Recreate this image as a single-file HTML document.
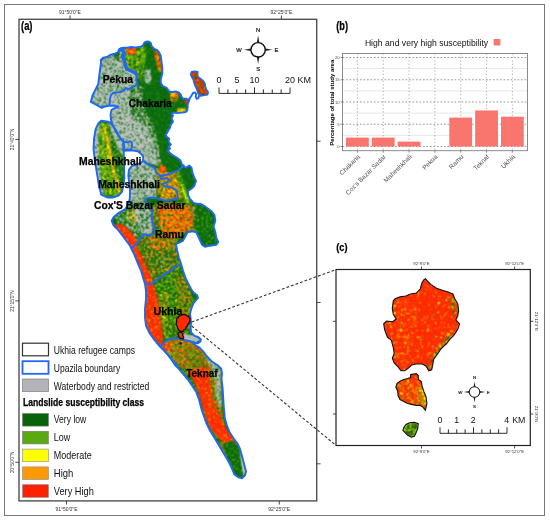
<!DOCTYPE html>
<html><head><meta charset="utf-8"><style>
html,body{margin:0;padding:0;background:#fff;}
svg{display:block;}
text{font-family:"Liberation Sans",Arial,sans-serif;}
</style></head><body>
<svg width="550" height="520" viewBox="0 0 550 520">
<defs><filter id="s0" filterUnits="userSpaceOnUse" x="0" y="0" width="550" height="520" color-interpolation-filters="sRGB"><feTurbulence type="fractalNoise" baseFrequency="0.41" numOctaves="3" seed="11" result="n"/><feColorMatrix in="n" type="matrix" values="0 0 0 0 0  0 0 0 0 0  0 0 0 0 0  9 0 0 0 -4.851" result="m"/><feComposite in="SourceGraphic" in2="m" operator="in"/></filter>
<filter id="s1" filterUnits="userSpaceOnUse" x="0" y="0" width="550" height="520" color-interpolation-filters="sRGB"><feTurbulence type="fractalNoise" baseFrequency="0.492" numOctaves="3" seed="12" result="n"/><feColorMatrix in="n" type="matrix" values="0 0 0 0 0  0 0 0 0 0  0 0 0 0 0  9 0 0 0 -4.779" result="m"/><feComposite in="SourceGraphic" in2="m" operator="in"/></filter>
<filter id="s2" filterUnits="userSpaceOnUse" x="0" y="0" width="550" height="520" color-interpolation-filters="sRGB"><feTurbulence type="fractalNoise" baseFrequency="0.41" numOctaves="3" seed="13" result="n"/><feColorMatrix in="n" type="matrix" values="0 0 0 0 0  0 0 0 0 0  0 0 0 0 0  9 0 0 0 -5.411" result="m"/><feComposite in="SourceGraphic" in2="m" operator="in"/></filter>
<filter id="s3" filterUnits="userSpaceOnUse" x="0" y="0" width="550" height="520" color-interpolation-filters="sRGB"><feTurbulence type="fractalNoise" baseFrequency="0.41" numOctaves="3" seed="14" result="n"/><feColorMatrix in="n" type="matrix" values="0 0 0 0 0  0 0 0 0 0  0 0 0 0 0  9 0 0 0 -3.863" result="m"/><feComposite in="SourceGraphic" in2="m" operator="in"/></filter>
<filter id="s4" filterUnits="userSpaceOnUse" x="0" y="0" width="550" height="520" color-interpolation-filters="sRGB"><feTurbulence type="fractalNoise" baseFrequency="0.451" numOctaves="3" seed="15" result="n"/><feColorMatrix in="n" type="matrix" values="0 0 0 0 0  0 0 0 0 0  0 0 0 0 0  9 0 0 0 -5.293" result="m"/><feComposite in="SourceGraphic" in2="m" operator="in"/></filter>
<filter id="s5" filterUnits="userSpaceOnUse" x="0" y="0" width="550" height="520" color-interpolation-filters="sRGB"><feTurbulence type="fractalNoise" baseFrequency="0.41" numOctaves="3" seed="16" result="n"/><feColorMatrix in="n" type="matrix" values="0 0 0 0 0  0 0 0 0 0  0 0 0 0 0  9 0 0 0 -4.338" result="m"/><feComposite in="SourceGraphic" in2="m" operator="in"/></filter>
<filter id="s6" filterUnits="userSpaceOnUse" x="0" y="0" width="550" height="520" color-interpolation-filters="sRGB"><feTurbulence type="fractalNoise" baseFrequency="0.492" numOctaves="3" seed="17" result="n"/><feColorMatrix in="n" type="matrix" values="0 0 0 0 0  0 0 0 0 0  0 0 0 0 0  9 0 0 0 -5.928" result="m"/><feComposite in="SourceGraphic" in2="m" operator="in"/></filter>
<filter id="s7" filterUnits="userSpaceOnUse" x="0" y="0" width="550" height="520" color-interpolation-filters="sRGB"><feTurbulence type="fractalNoise" baseFrequency="0.451" numOctaves="3" seed="18" result="n"/><feColorMatrix in="n" type="matrix" values="0 0 0 0 0  0 0 0 0 0  0 0 0 0 0  9 0 0 0 -4.140" result="m"/><feComposite in="SourceGraphic" in2="m" operator="in"/></filter>
<filter id="s8" filterUnits="userSpaceOnUse" x="0" y="0" width="550" height="520" color-interpolation-filters="sRGB"><feTurbulence type="fractalNoise" baseFrequency="0.451" numOctaves="3" seed="19" result="n"/><feColorMatrix in="n" type="matrix" values="0 0 0 0 0  0 0 0 0 0  0 0 0 0 0  9 0 0 0 -5.008" result="m"/><feComposite in="SourceGraphic" in2="m" operator="in"/></filter>
<filter id="s9" filterUnits="userSpaceOnUse" x="0" y="0" width="550" height="520" color-interpolation-filters="sRGB"><feTurbulence type="fractalNoise" baseFrequency="0.451" numOctaves="3" seed="20" result="n"/><feColorMatrix in="n" type="matrix" values="0 0 0 0 0  0 0 0 0 0  0 0 0 0 0  9 0 0 0 -4.426" result="m"/><feComposite in="SourceGraphic" in2="m" operator="in"/></filter>
<filter id="s10" filterUnits="userSpaceOnUse" x="0" y="0" width="550" height="520" color-interpolation-filters="sRGB"><feTurbulence type="fractalNoise" baseFrequency="0.492" numOctaves="3" seed="21" result="n"/><feColorMatrix in="n" type="matrix" values="0 0 0 0 0  0 0 0 0 0  0 0 0 0 0  9 0 0 0 -4.426" result="m"/><feComposite in="SourceGraphic" in2="m" operator="in"/></filter>
<filter id="s11" filterUnits="userSpaceOnUse" x="0" y="0" width="550" height="520" color-interpolation-filters="sRGB"><feTurbulence type="fractalNoise" baseFrequency="0.451" numOctaves="3" seed="22" result="n"/><feColorMatrix in="n" type="matrix" values="0 0 0 0 0  0 0 0 0 0  0 0 0 0 0  9 0 0 0 -4.281" result="m"/><feComposite in="SourceGraphic" in2="m" operator="in"/></filter>
<filter id="s12" filterUnits="userSpaceOnUse" x="0" y="0" width="550" height="520" color-interpolation-filters="sRGB"><feTurbulence type="fractalNoise" baseFrequency="0.41" numOctaves="3" seed="23" result="n"/><feColorMatrix in="n" type="matrix" values="0 0 0 0 0  0 0 0 0 0  0 0 0 0 0  9 0 0 0 -5.141" result="m"/><feComposite in="SourceGraphic" in2="m" operator="in"/></filter>
<filter id="s13" filterUnits="userSpaceOnUse" x="0" y="0" width="550" height="520" color-interpolation-filters="sRGB"><feTurbulence type="fractalNoise" baseFrequency="0.451" numOctaves="3" seed="24" result="n"/><feColorMatrix in="n" type="matrix" values="0 0 0 0 0  0 0 0 0 0  0 0 0 0 0  9 0 0 0 -4.927" result="m"/><feComposite in="SourceGraphic" in2="m" operator="in"/></filter>
<filter id="s14" filterUnits="userSpaceOnUse" x="0" y="0" width="550" height="520" color-interpolation-filters="sRGB"><feTurbulence type="fractalNoise" baseFrequency="0.41" numOctaves="3" seed="25" result="n"/><feColorMatrix in="n" type="matrix" values="0 0 0 0 0  0 0 0 0 0  0 0 0 0 0  9 0 0 0 -4.744" result="m"/><feComposite in="SourceGraphic" in2="m" operator="in"/></filter>
<filter id="s15" filterUnits="userSpaceOnUse" x="0" y="0" width="550" height="520" color-interpolation-filters="sRGB"><feTurbulence type="fractalNoise" baseFrequency="0.451" numOctaves="3" seed="26" result="n"/><feColorMatrix in="n" type="matrix" values="0 0 0 0 0  0 0 0 0 0  0 0 0 0 0  9 0 0 0 -5.547" result="m"/><feComposite in="SourceGraphic" in2="m" operator="in"/></filter>
<filter id="s16" filterUnits="userSpaceOnUse" x="0" y="0" width="550" height="520" color-interpolation-filters="sRGB"><feTurbulence type="fractalNoise" baseFrequency="0.492" numOctaves="3" seed="27" result="n"/><feColorMatrix in="n" type="matrix" values="0 0 0 0 0  0 0 0 0 0  0 0 0 0 0  9 0 0 0 -4.281" result="m"/><feComposite in="SourceGraphic" in2="m" operator="in"/></filter>
<filter id="s17" filterUnits="userSpaceOnUse" x="0" y="0" width="550" height="520" color-interpolation-filters="sRGB"><feTurbulence type="fractalNoise" baseFrequency="0.451" numOctaves="3" seed="28" result="n"/><feColorMatrix in="n" type="matrix" values="0 0 0 0 0  0 0 0 0 0  0 0 0 0 0  9 0 0 0 -4.927" result="m"/><feComposite in="SourceGraphic" in2="m" operator="in"/></filter>
<filter id="s18" filterUnits="userSpaceOnUse" x="0" y="0" width="550" height="520" color-interpolation-filters="sRGB"><feTurbulence type="fractalNoise" baseFrequency="0.451" numOctaves="3" seed="29" result="n"/><feColorMatrix in="n" type="matrix" values="0 0 0 0 0  0 0 0 0 0  0 0 0 0 0  9 0 0 0 -4.426" result="m"/><feComposite in="SourceGraphic" in2="m" operator="in"/></filter>
<filter id="s19" filterUnits="userSpaceOnUse" x="0" y="0" width="550" height="520" color-interpolation-filters="sRGB"><feTurbulence type="fractalNoise" baseFrequency="0.451" numOctaves="3" seed="30" result="n"/><feColorMatrix in="n" type="matrix" values="0 0 0 0 0  0 0 0 0 0  0 0 0 0 0  9 0 0 0 -5.293" result="m"/><feComposite in="SourceGraphic" in2="m" operator="in"/></filter>
<filter id="s20" filterUnits="userSpaceOnUse" x="0" y="0" width="550" height="520" color-interpolation-filters="sRGB"><feTurbulence type="fractalNoise" baseFrequency="0.492" numOctaves="3" seed="31" result="n"/><feColorMatrix in="n" type="matrix" values="0 0 0 0 0  0 0 0 0 0  0 0 0 0 0  9 0 0 0 -4.927" result="m"/><feComposite in="SourceGraphic" in2="m" operator="in"/></filter>
<filter id="s21" filterUnits="userSpaceOnUse" x="0" y="0" width="550" height="520" color-interpolation-filters="sRGB"><feTurbulence type="fractalNoise" baseFrequency="0.41" numOctaves="3" seed="32" result="n"/><feColorMatrix in="n" type="matrix" values="0 0 0 0 0  0 0 0 0 0  0 0 0 0 0  9 0 0 0 -5.547" result="m"/><feComposite in="SourceGraphic" in2="m" operator="in"/></filter>
<filter id="s22" filterUnits="userSpaceOnUse" x="0" y="0" width="550" height="520" color-interpolation-filters="sRGB"><feTurbulence type="fractalNoise" baseFrequency="0.451" numOctaves="3" seed="33" result="n"/><feColorMatrix in="n" type="matrix" values="0 0 0 0 0  0 0 0 0 0  0 0 0 0 0  9 0 0 0 -4.224" result="m"/><feComposite in="SourceGraphic" in2="m" operator="in"/></filter>
<filter id="s23" filterUnits="userSpaceOnUse" x="0" y="0" width="550" height="520" color-interpolation-filters="sRGB"><feTurbulence type="fractalNoise" baseFrequency="0.451" numOctaves="3" seed="34" result="n"/><feColorMatrix in="n" type="matrix" values="0 0 0 0 0  0 0 0 0 0  0 0 0 0 0  9 0 0 0 -5.411" result="m"/><feComposite in="SourceGraphic" in2="m" operator="in"/></filter>
<filter id="s24" filterUnits="userSpaceOnUse" x="0" y="0" width="550" height="520" color-interpolation-filters="sRGB"><feTurbulence type="fractalNoise" baseFrequency="0.41" numOctaves="3" seed="35" result="n"/><feColorMatrix in="n" type="matrix" values="0 0 0 0 0  0 0 0 0 0  0 0 0 0 0  9 0 0 0 -4.579" result="m"/><feComposite in="SourceGraphic" in2="m" operator="in"/></filter>
<filter id="s25" filterUnits="userSpaceOnUse" x="0" y="0" width="550" height="520" color-interpolation-filters="sRGB"><feTurbulence type="fractalNoise" baseFrequency="0.41" numOctaves="3" seed="36" result="n"/><feColorMatrix in="n" type="matrix" values="0 0 0 0 0  0 0 0 0 0  0 0 0 0 0  9 0 0 0 -5.712" result="m"/><feComposite in="SourceGraphic" in2="m" operator="in"/></filter>
<filter id="s26" filterUnits="userSpaceOnUse" x="0" y="0" width="550" height="520" color-interpolation-filters="sRGB"><feTurbulence type="fractalNoise" baseFrequency="0.41" numOctaves="3" seed="37" result="n"/><feColorMatrix in="n" type="matrix" values="0 0 0 0 0  0 0 0 0 0  0 0 0 0 0  9 0 0 0 -4.579" result="m"/><feComposite in="SourceGraphic" in2="m" operator="in"/></filter>
<filter id="s27" filterUnits="userSpaceOnUse" x="0" y="0" width="550" height="520" color-interpolation-filters="sRGB"><feTurbulence type="fractalNoise" baseFrequency="0.41" numOctaves="3" seed="38" result="n"/><feColorMatrix in="n" type="matrix" values="0 0 0 0 0  0 0 0 0 0  0 0 0 0 0  9 0 0 0 -5.008" result="m"/><feComposite in="SourceGraphic" in2="m" operator="in"/></filter>
<filter id="s28" filterUnits="userSpaceOnUse" x="0" y="0" width="550" height="520" color-interpolation-filters="sRGB"><feTurbulence type="fractalNoise" baseFrequency="0.41" numOctaves="3" seed="39" result="n"/><feColorMatrix in="n" type="matrix" values="0 0 0 0 0  0 0 0 0 0  0 0 0 0 0  9 0 0 0 -5.624" result="m"/><feComposite in="SourceGraphic" in2="m" operator="in"/></filter>
<filter id="s29" filterUnits="userSpaceOnUse" x="0" y="0" width="550" height="520" color-interpolation-filters="sRGB"><feTurbulence type="fractalNoise" baseFrequency="0.41" numOctaves="3" seed="40" result="n"/><feColorMatrix in="n" type="matrix" values="0 0 0 0 0  0 0 0 0 0  0 0 0 0 0  9 0 0 0 -4.851" result="m"/><feComposite in="SourceGraphic" in2="m" operator="in"/></filter>
<filter id="s30" filterUnits="userSpaceOnUse" x="0" y="0" width="550" height="520" color-interpolation-filters="sRGB"><feTurbulence type="fractalNoise" baseFrequency="0.41" numOctaves="3" seed="41" result="n"/><feColorMatrix in="n" type="matrix" values="0 0 0 0 0  0 0 0 0 0  0 0 0 0 0  9 0 0 0 -4.579" result="m"/><feComposite in="SourceGraphic" in2="m" operator="in"/></filter>
<filter id="s31" filterUnits="userSpaceOnUse" x="0" y="0" width="550" height="520" color-interpolation-filters="sRGB"><feTurbulence type="fractalNoise" baseFrequency="0.41" numOctaves="3" seed="42" result="n"/><feColorMatrix in="n" type="matrix" values="0 0 0 0 0  0 0 0 0 0  0 0 0 0 0  9 0 0 0 -5.293" result="m"/><feComposite in="SourceGraphic" in2="m" operator="in"/></filter>
<filter id="s32" filterUnits="userSpaceOnUse" x="0" y="0" width="550" height="520" color-interpolation-filters="sRGB"><feTurbulence type="fractalNoise" baseFrequency="0.41" numOctaves="3" seed="43" result="n"/><feColorMatrix in="n" type="matrix" values="0 0 0 0 0  0 0 0 0 0  0 0 0 0 0  9 0 0 0 -4.579" result="m"/><feComposite in="SourceGraphic" in2="m" operator="in"/></filter>
<filter id="s33" filterUnits="userSpaceOnUse" x="0" y="0" width="550" height="520" color-interpolation-filters="sRGB"><feTurbulence type="fractalNoise" baseFrequency="0.41" numOctaves="3" seed="44" result="n"/><feColorMatrix in="n" type="matrix" values="0 0 0 0 0  0 0 0 0 0  0 0 0 0 0  9 0 0 0 -4.927" result="m"/><feComposite in="SourceGraphic" in2="m" operator="in"/></filter>
<filter id="s34" filterUnits="userSpaceOnUse" x="0" y="0" width="550" height="520" color-interpolation-filters="sRGB"><feTurbulence type="fractalNoise" baseFrequency="0.41" numOctaves="3" seed="45" result="n"/><feColorMatrix in="n" type="matrix" values="0 0 0 0 0  0 0 0 0 0  0 0 0 0 0  9 0 0 0 -4.579" result="m"/><feComposite in="SourceGraphic" in2="m" operator="in"/></filter>
<filter id="s35" filterUnits="userSpaceOnUse" x="0" y="0" width="550" height="520" color-interpolation-filters="sRGB"><feTurbulence type="fractalNoise" baseFrequency="0.451" numOctaves="3" seed="46" result="n"/><feColorMatrix in="n" type="matrix" values="0 0 0 0 0  0 0 0 0 0  0 0 0 0 0  9 0 0 0 -4.779" result="m"/><feComposite in="SourceGraphic" in2="m" operator="in"/></filter>
<filter id="s36" filterUnits="userSpaceOnUse" x="0" y="0" width="550" height="520" color-interpolation-filters="sRGB"><feTurbulence type="fractalNoise" baseFrequency="0.41" numOctaves="3" seed="47" result="n"/><feColorMatrix in="n" type="matrix" values="0 0 0 0 0  0 0 0 0 0  0 0 0 0 0  9 0 0 0 -5.547" result="m"/><feComposite in="SourceGraphic" in2="m" operator="in"/></filter>
<filter id="s37" filterUnits="userSpaceOnUse" x="0" y="0" width="550" height="520" color-interpolation-filters="sRGB"><feTurbulence type="fractalNoise" baseFrequency="0.41" numOctaves="3" seed="48" result="n"/><feColorMatrix in="n" type="matrix" values="0 0 0 0 0  0 0 0 0 0  0 0 0 0 0  9 0 0 0 -4.579" result="m"/><feComposite in="SourceGraphic" in2="m" operator="in"/></filter>
<filter id="s38" filterUnits="userSpaceOnUse" x="0" y="0" width="550" height="520" color-interpolation-filters="sRGB"><feTurbulence type="fractalNoise" baseFrequency="0.451" numOctaves="3" seed="49" result="n"/><feColorMatrix in="n" type="matrix" values="0 0 0 0 0  0 0 0 0 0  0 0 0 0 0  9 0 0 0 -5.141" result="m"/><feComposite in="SourceGraphic" in2="m" operator="in"/></filter>
<filter id="s39" filterUnits="userSpaceOnUse" x="0" y="0" width="550" height="520" color-interpolation-filters="sRGB"><feTurbulence type="fractalNoise" baseFrequency="0.451" numOctaves="3" seed="50" result="n"/><feColorMatrix in="n" type="matrix" values="0 0 0 0 0  0 0 0 0 0  0 0 0 0 0  9 0 0 0 -5.293" result="m"/><feComposite in="SourceGraphic" in2="m" operator="in"/></filter>
<filter id="s40" filterUnits="userSpaceOnUse" x="0" y="0" width="550" height="520" color-interpolation-filters="sRGB"><feTurbulence type="fractalNoise" baseFrequency="0.41" numOctaves="3" seed="51" result="n"/><feColorMatrix in="n" type="matrix" values="0 0 0 0 0  0 0 0 0 0  0 0 0 0 0  9 0 0 0 -5.411" result="m"/><feComposite in="SourceGraphic" in2="m" operator="in"/></filter>
<filter id="s41" filterUnits="userSpaceOnUse" x="0" y="0" width="550" height="520" color-interpolation-filters="sRGB"><feTurbulence type="fractalNoise" baseFrequency="0.41" numOctaves="3" seed="52" result="n"/><feColorMatrix in="n" type="matrix" values="0 0 0 0 0  0 0 0 0 0  0 0 0 0 0  9 0 0 0 -4.281" result="m"/><feComposite in="SourceGraphic" in2="m" operator="in"/></filter>
<filter id="s42" filterUnits="userSpaceOnUse" x="0" y="0" width="550" height="520" color-interpolation-filters="sRGB"><feTurbulence type="fractalNoise" baseFrequency="0.451" numOctaves="3" seed="53" result="n"/><feColorMatrix in="n" type="matrix" values="0 0 0 0 0  0 0 0 0 0  0 0 0 0 0  9 0 0 0 -4.281" result="m"/><feComposite in="SourceGraphic" in2="m" operator="in"/></filter>
<filter id="s43" filterUnits="userSpaceOnUse" x="0" y="0" width="550" height="520" color-interpolation-filters="sRGB"><feTurbulence type="fractalNoise" baseFrequency="0.41" numOctaves="3" seed="54" result="n"/><feColorMatrix in="n" type="matrix" values="0 0 0 0 0  0 0 0 0 0  0 0 0 0 0  9 0 0 0 -4.224" result="m"/><feComposite in="SourceGraphic" in2="m" operator="in"/></filter>
<filter id="s44" filterUnits="userSpaceOnUse" x="0" y="0" width="550" height="520" color-interpolation-filters="sRGB"><feTurbulence type="fractalNoise" baseFrequency="0.451" numOctaves="3" seed="55" result="n"/><feColorMatrix in="n" type="matrix" values="0 0 0 0 0  0 0 0 0 0  0 0 0 0 0  9 0 0 0 -5.547" result="m"/><feComposite in="SourceGraphic" in2="m" operator="in"/></filter>
<filter id="s45" filterUnits="userSpaceOnUse" x="0" y="0" width="550" height="520" color-interpolation-filters="sRGB"><feTurbulence type="fractalNoise" baseFrequency="0.451" numOctaves="3" seed="56" result="n"/><feColorMatrix in="n" type="matrix" values="0 0 0 0 0  0 0 0 0 0  0 0 0 0 0  9 0 0 0 -4.579" result="m"/><feComposite in="SourceGraphic" in2="m" operator="in"/></filter>
<filter id="s46" filterUnits="userSpaceOnUse" x="0" y="0" width="550" height="520" color-interpolation-filters="sRGB"><feTurbulence type="fractalNoise" baseFrequency="0.41" numOctaves="3" seed="57" result="n"/><feColorMatrix in="n" type="matrix" values="0 0 0 0 0  0 0 0 0 0  0 0 0 0 0  9 0 0 0 -4.338" result="m"/><feComposite in="SourceGraphic" in2="m" operator="in"/></filter>
<filter id="s47" filterUnits="userSpaceOnUse" x="0" y="0" width="550" height="520" color-interpolation-filters="sRGB"><feTurbulence type="fractalNoise" baseFrequency="0.41" numOctaves="3" seed="58" result="n"/><feColorMatrix in="n" type="matrix" values="0 0 0 0 0  0 0 0 0 0  0 0 0 0 0  9 0 0 0 -5.141" result="m"/><feComposite in="SourceGraphic" in2="m" operator="in"/></filter>
<filter id="s48" filterUnits="userSpaceOnUse" x="0" y="0" width="550" height="520" color-interpolation-filters="sRGB"><feTurbulence type="fractalNoise" baseFrequency="0.41" numOctaves="3" seed="59" result="n"/><feColorMatrix in="n" type="matrix" values="0 0 0 0 0  0 0 0 0 0  0 0 0 0 0  9 0 0 0 -4.579" result="m"/><feComposite in="SourceGraphic" in2="m" operator="in"/></filter>
<filter id="s49" filterUnits="userSpaceOnUse" x="0" y="0" width="550" height="520" color-interpolation-filters="sRGB"><feTurbulence type="fractalNoise" baseFrequency="0.41" numOctaves="3" seed="60" result="n"/><feColorMatrix in="n" type="matrix" values="0 0 0 0 0  0 0 0 0 0  0 0 0 0 0  9 0 0 0 -5.411" result="m"/><feComposite in="SourceGraphic" in2="m" operator="in"/></filter>
<filter id="s50" filterUnits="userSpaceOnUse" x="0" y="0" width="550" height="520" color-interpolation-filters="sRGB"><feTurbulence type="fractalNoise" baseFrequency="0.41" numOctaves="3" seed="61" result="n"/><feColorMatrix in="n" type="matrix" values="0 0 0 0 0  0 0 0 0 0  0 0 0 0 0  9 0 0 0 -4.579" result="m"/><feComposite in="SourceGraphic" in2="m" operator="in"/></filter>
<filter id="s51" filterUnits="userSpaceOnUse" x="0" y="0" width="550" height="520" color-interpolation-filters="sRGB"><feTurbulence type="fractalNoise" baseFrequency="0.41" numOctaves="3" seed="62" result="n"/><feColorMatrix in="n" type="matrix" values="0 0 0 0 0  0 0 0 0 0  0 0 0 0 0  9 0 0 0 -5.293" result="m"/><feComposite in="SourceGraphic" in2="m" operator="in"/></filter>
<filter id="s52" filterUnits="userSpaceOnUse" x="0" y="0" width="550" height="520" color-interpolation-filters="sRGB"><feTurbulence type="fractalNoise" baseFrequency="0.451" numOctaves="3" seed="63" result="n"/><feColorMatrix in="n" type="matrix" values="0 0 0 0 0  0 0 0 0 0  0 0 0 0 0  9 0 0 0 -5.293" result="m"/><feComposite in="SourceGraphic" in2="m" operator="in"/></filter>
<filter id="s53" filterUnits="userSpaceOnUse" x="0" y="0" width="550" height="520" color-interpolation-filters="sRGB"><feTurbulence type="fractalNoise" baseFrequency="0.41" numOctaves="3" seed="64" result="n"/><feColorMatrix in="n" type="matrix" values="0 0 0 0 0  0 0 0 0 0  0 0 0 0 0  9 0 0 0 -4.710" result="m"/><feComposite in="SourceGraphic" in2="m" operator="in"/></filter>
<filter id="s54" filterUnits="userSpaceOnUse" x="0" y="0" width="550" height="520" color-interpolation-filters="sRGB"><feTurbulence type="fractalNoise" baseFrequency="0.41" numOctaves="3" seed="65" result="n"/><feColorMatrix in="n" type="matrix" values="0 0 0 0 0  0 0 0 0 0  0 0 0 0 0  9 0 0 0 -5.141" result="m"/><feComposite in="SourceGraphic" in2="m" operator="in"/></filter>
<filter id="s55" filterUnits="userSpaceOnUse" x="0" y="0" width="550" height="520" color-interpolation-filters="sRGB"><feTurbulence type="fractalNoise" baseFrequency="0.41" numOctaves="3" seed="66" result="n"/><feColorMatrix in="n" type="matrix" values="0 0 0 0 0  0 0 0 0 0  0 0 0 0 0  9 0 0 0 -5.624" result="m"/><feComposite in="SourceGraphic" in2="m" operator="in"/></filter>
<filter id="s56" filterUnits="userSpaceOnUse" x="0" y="0" width="550" height="520" color-interpolation-filters="sRGB"><feTurbulence type="fractalNoise" baseFrequency="0.451" numOctaves="3" seed="67" result="n"/><feColorMatrix in="n" type="matrix" values="0 0 0 0 0  0 0 0 0 0  0 0 0 0 0  9 0 0 0 -6.261" result="m"/><feComposite in="SourceGraphic" in2="m" operator="in"/></filter>
<filter id="s57" filterUnits="userSpaceOnUse" x="0" y="0" width="550" height="520" color-interpolation-filters="sRGB"><feTurbulence type="fractalNoise" baseFrequency="0.41" numOctaves="3" seed="68" result="n"/><feColorMatrix in="n" type="matrix" values="0 0 0 0 0  0 0 0 0 0  0 0 0 0 0  9 0 0 0 -5.811" result="m"/><feComposite in="SourceGraphic" in2="m" operator="in"/></filter>
<filter id="s58" filterUnits="userSpaceOnUse" x="0" y="0" width="550" height="520" color-interpolation-filters="sRGB"><feTurbulence type="fractalNoise" baseFrequency="0.41" numOctaves="3" seed="69" result="n"/><feColorMatrix in="n" type="matrix" values="0 0 0 0 0  0 0 0 0 0  0 0 0 0 0  9 0 0 0 -4.224" result="m"/><feComposite in="SourceGraphic" in2="m" operator="in"/></filter>
<filter id="s59" filterUnits="userSpaceOnUse" x="0" y="0" width="550" height="520" color-interpolation-filters="sRGB"><feTurbulence type="fractalNoise" baseFrequency="0.451" numOctaves="3" seed="70" result="n"/><feColorMatrix in="n" type="matrix" values="0 0 0 0 0  0 0 0 0 0  0 0 0 0 0  9 0 0 0 -5.141" result="m"/><feComposite in="SourceGraphic" in2="m" operator="in"/></filter>
<filter id="s60" filterUnits="userSpaceOnUse" x="0" y="0" width="550" height="520" color-interpolation-filters="sRGB"><feTurbulence type="fractalNoise" baseFrequency="0.41" numOctaves="3" seed="71" result="n"/><feColorMatrix in="n" type="matrix" values="0 0 0 0 0  0 0 0 0 0  0 0 0 0 0  9 0 0 0 -5.411" result="m"/><feComposite in="SourceGraphic" in2="m" operator="in"/></filter>
<filter id="s61" filterUnits="userSpaceOnUse" x="0" y="0" width="550" height="520" color-interpolation-filters="sRGB"><feTurbulence type="fractalNoise" baseFrequency="0.41" numOctaves="3" seed="72" result="n"/><feColorMatrix in="n" type="matrix" values="0 0 0 0 0  0 0 0 0 0  0 0 0 0 0  9 0 0 0 -4.744" result="m"/><feComposite in="SourceGraphic" in2="m" operator="in"/></filter>
<filter id="s62" filterUnits="userSpaceOnUse" x="0" y="0" width="550" height="520" color-interpolation-filters="sRGB"><feTurbulence type="fractalNoise" baseFrequency="0.41" numOctaves="3" seed="73" result="n"/><feColorMatrix in="n" type="matrix" values="0 0 0 0 0  0 0 0 0 0  0 0 0 0 0  9 0 0 0 -5.411" result="m"/><feComposite in="SourceGraphic" in2="m" operator="in"/></filter>
<filter id="s63" filterUnits="userSpaceOnUse" x="0" y="0" width="550" height="520" color-interpolation-filters="sRGB"><feTurbulence type="fractalNoise" baseFrequency="0.451" numOctaves="3" seed="74" result="n"/><feColorMatrix in="n" type="matrix" values="0 0 0 0 0  0 0 0 0 0  0 0 0 0 0  9 0 0 0 -5.141" result="m"/><feComposite in="SourceGraphic" in2="m" operator="in"/></filter>
<filter id="s64" filterUnits="userSpaceOnUse" x="0" y="0" width="550" height="520" color-interpolation-filters="sRGB"><feTurbulence type="fractalNoise" baseFrequency="0.41" numOctaves="3" seed="75" result="n"/><feColorMatrix in="n" type="matrix" values="0 0 0 0 0  0 0 0 0 0  0 0 0 0 0  9 0 0 0 -4.486" result="m"/><feComposite in="SourceGraphic" in2="m" operator="in"/></filter>
<filter id="s65" filterUnits="userSpaceOnUse" x="0" y="0" width="550" height="520" color-interpolation-filters="sRGB"><feTurbulence type="fractalNoise" baseFrequency="0.451" numOctaves="3" seed="76" result="n"/><feColorMatrix in="n" type="matrix" values="0 0 0 0 0  0 0 0 0 0  0 0 0 0 0  9 0 0 0 -5.811" result="m"/><feComposite in="SourceGraphic" in2="m" operator="in"/></filter>
<filter id="s66" filterUnits="userSpaceOnUse" x="0" y="0" width="550" height="520" color-interpolation-filters="sRGB"><feTurbulence type="fractalNoise" baseFrequency="0.451" numOctaves="3" seed="77" result="n"/><feColorMatrix in="n" type="matrix" values="0 0 0 0 0  0 0 0 0 0  0 0 0 0 0  9 0 0 0 -5.547" result="m"/><feComposite in="SourceGraphic" in2="m" operator="in"/></filter>
<filter id="s67" filterUnits="userSpaceOnUse" x="0" y="0" width="550" height="520" color-interpolation-filters="sRGB"><feTurbulence type="fractalNoise" baseFrequency="0.41" numOctaves="3" seed="78" result="n"/><feColorMatrix in="n" type="matrix" values="0 0 0 0 0  0 0 0 0 0  0 0 0 0 0  9 0 0 0 -5.293" result="m"/><feComposite in="SourceGraphic" in2="m" operator="in"/></filter>
<filter id="s68" filterUnits="userSpaceOnUse" x="0" y="0" width="550" height="520" color-interpolation-filters="sRGB"><feTurbulence type="fractalNoise" baseFrequency="0.41" numOctaves="3" seed="79" result="n"/><feColorMatrix in="n" type="matrix" values="0 0 0 0 0  0 0 0 0 0  0 0 0 0 0  9 0 0 0 -5.008" result="m"/><feComposite in="SourceGraphic" in2="m" operator="in"/></filter>
<filter id="s69" filterUnits="userSpaceOnUse" x="0" y="0" width="550" height="520" color-interpolation-filters="sRGB"><feTurbulence type="fractalNoise" baseFrequency="0.451" numOctaves="3" seed="80" result="n"/><feColorMatrix in="n" type="matrix" values="0 0 0 0 0  0 0 0 0 0  0 0 0 0 0  9 0 0 0 -4.338" result="m"/><feComposite in="SourceGraphic" in2="m" operator="in"/></filter>
<filter id="s70" filterUnits="userSpaceOnUse" x="0" y="0" width="550" height="520" color-interpolation-filters="sRGB"><feTurbulence type="fractalNoise" baseFrequency="0.41" numOctaves="3" seed="81" result="n"/><feColorMatrix in="n" type="matrix" values="0 0 0 0 0  0 0 0 0 0  0 0 0 0 0  9 0 0 0 -4.851" result="m"/><feComposite in="SourceGraphic" in2="m" operator="in"/></filter>
<filter id="s71" filterUnits="userSpaceOnUse" x="0" y="0" width="550" height="520" color-interpolation-filters="sRGB"><feTurbulence type="fractalNoise" baseFrequency="0.41" numOctaves="3" seed="82" result="n"/><feColorMatrix in="n" type="matrix" values="0 0 0 0 0  0 0 0 0 0  0 0 0 0 0  9 0 0 0 -5.712" result="m"/><feComposite in="SourceGraphic" in2="m" operator="in"/></filter>
<filter id="s72" filterUnits="userSpaceOnUse" x="0" y="0" width="550" height="520" color-interpolation-filters="sRGB"><feTurbulence type="fractalNoise" baseFrequency="0.451" numOctaves="3" seed="83" result="n"/><feColorMatrix in="n" type="matrix" values="0 0 0 0 0  0 0 0 0 0  0 0 0 0 0  9 0 0 0 -4.579" result="m"/><feComposite in="SourceGraphic" in2="m" operator="in"/></filter>
<filter id="s73" filterUnits="userSpaceOnUse" x="0" y="0" width="550" height="520" color-interpolation-filters="sRGB"><feTurbulence type="fractalNoise" baseFrequency="0.451" numOctaves="3" seed="84" result="n"/><feColorMatrix in="n" type="matrix" values="0 0 0 0 0  0 0 0 0 0  0 0 0 0 0  9 0 0 0 -5.293" result="m"/><feComposite in="SourceGraphic" in2="m" operator="in"/></filter>
<filter id="s74" filterUnits="userSpaceOnUse" x="0" y="0" width="550" height="520" color-interpolation-filters="sRGB"><feTurbulence type="fractalNoise" baseFrequency="0.451" numOctaves="3" seed="85" result="n"/><feColorMatrix in="n" type="matrix" values="0 0 0 0 0  0 0 0 0 0  0 0 0 0 0  9 0 0 0 -5.928" result="m"/><feComposite in="SourceGraphic" in2="m" operator="in"/></filter>
<filter id="s75" filterUnits="userSpaceOnUse" x="0" y="0" width="550" height="520" color-interpolation-filters="sRGB"><feTurbulence type="fractalNoise" baseFrequency="0.41" numOctaves="3" seed="86" result="n"/><feColorMatrix in="n" type="matrix" values="0 0 0 0 0  0 0 0 0 0  0 0 0 0 0  9 0 0 0 -4.579" result="m"/><feComposite in="SourceGraphic" in2="m" operator="in"/></filter>
<filter id="s76" filterUnits="userSpaceOnUse" x="0" y="0" width="550" height="520" color-interpolation-filters="sRGB"><feTurbulence type="fractalNoise" baseFrequency="0.451" numOctaves="3" seed="87" result="n"/><feColorMatrix in="n" type="matrix" values="0 0 0 0 0  0 0 0 0 0  0 0 0 0 0  9 0 0 0 -4.744" result="m"/><feComposite in="SourceGraphic" in2="m" operator="in"/></filter>
<filter id="s77" filterUnits="userSpaceOnUse" x="0" y="0" width="550" height="520" color-interpolation-filters="sRGB"><feTurbulence type="fractalNoise" baseFrequency="0.451" numOctaves="3" seed="88" result="n"/><feColorMatrix in="n" type="matrix" values="0 0 0 0 0  0 0 0 0 0  0 0 0 0 0  9 0 0 0 -4.851" result="m"/><feComposite in="SourceGraphic" in2="m" operator="in"/></filter>
<filter id="s78" filterUnits="userSpaceOnUse" x="0" y="0" width="550" height="520" color-interpolation-filters="sRGB"><feTurbulence type="fractalNoise" baseFrequency="0.41" numOctaves="3" seed="89" result="n"/><feColorMatrix in="n" type="matrix" values="0 0 0 0 0  0 0 0 0 0  0 0 0 0 0  9 0 0 0 -4.579" result="m"/><feComposite in="SourceGraphic" in2="m" operator="in"/></filter>
<filter id="s79" filterUnits="userSpaceOnUse" x="0" y="0" width="550" height="520" color-interpolation-filters="sRGB"><feTurbulence type="fractalNoise" baseFrequency="0.41" numOctaves="3" seed="90" result="n"/><feColorMatrix in="n" type="matrix" values="0 0 0 0 0  0 0 0 0 0  0 0 0 0 0  9 0 0 0 -5.411" result="m"/><feComposite in="SourceGraphic" in2="m" operator="in"/></filter>
<filter id="s80" filterUnits="userSpaceOnUse" x="0" y="0" width="550" height="520" color-interpolation-filters="sRGB"><feTurbulence type="fractalNoise" baseFrequency="0.41" numOctaves="3" seed="91" result="n"/><feColorMatrix in="n" type="matrix" values="0 0 0 0 0  0 0 0 0 0  0 0 0 0 0  9 0 0 0 -4.426" result="m"/><feComposite in="SourceGraphic" in2="m" operator="in"/></filter>
<filter id="s81" filterUnits="userSpaceOnUse" x="0" y="0" width="550" height="520" color-interpolation-filters="sRGB"><feTurbulence type="fractalNoise" baseFrequency="0.451" numOctaves="3" seed="92" result="n"/><feColorMatrix in="n" type="matrix" values="0 0 0 0 0  0 0 0 0 0  0 0 0 0 0  9 0 0 0 -5.547" result="m"/><feComposite in="SourceGraphic" in2="m" operator="in"/></filter>
<filter id="s82" filterUnits="userSpaceOnUse" x="0" y="0" width="550" height="520" color-interpolation-filters="sRGB"><feTurbulence type="fractalNoise" baseFrequency="0.492" numOctaves="3" seed="93" result="n"/><feColorMatrix in="n" type="matrix" values="0 0 0 0 0  0 0 0 0 0  0 0 0 0 0  9 0 0 0 -6.071" result="m"/><feComposite in="SourceGraphic" in2="m" operator="in"/></filter>
<filter id="s83" filterUnits="userSpaceOnUse" x="0" y="0" width="550" height="520" color-interpolation-filters="sRGB"><feTurbulence type="fractalNoise" baseFrequency="0.41" numOctaves="3" seed="94" result="n"/><feColorMatrix in="n" type="matrix" values="0 0 0 0 0  0 0 0 0 0  0 0 0 0 0  9 0 0 0 -4.644" result="m"/><feComposite in="SourceGraphic" in2="m" operator="in"/></filter>
<filter id="s84" filterUnits="userSpaceOnUse" x="0" y="0" width="550" height="520" color-interpolation-filters="sRGB"><feTurbulence type="fractalNoise" baseFrequency="0.41" numOctaves="3" seed="95" result="n"/><feColorMatrix in="n" type="matrix" values="0 0 0 0 0  0 0 0 0 0  0 0 0 0 0  9 0 0 0 -5.712" result="m"/><feComposite in="SourceGraphic" in2="m" operator="in"/></filter>
<filter id="s85" filterUnits="userSpaceOnUse" x="0" y="0" width="550" height="520" color-interpolation-filters="sRGB"><feTurbulence type="fractalNoise" baseFrequency="0.41" numOctaves="3" seed="96" result="n"/><feColorMatrix in="n" type="matrix" values="0 0 0 0 0  0 0 0 0 0  0 0 0 0 0  9 0 0 0 -4.579" result="m"/><feComposite in="SourceGraphic" in2="m" operator="in"/></filter>
<filter id="s86" filterUnits="userSpaceOnUse" x="0" y="0" width="550" height="520" color-interpolation-filters="sRGB"><feTurbulence type="fractalNoise" baseFrequency="0.41" numOctaves="3" seed="97" result="n"/><feColorMatrix in="n" type="matrix" values="0 0 0 0 0  0 0 0 0 0  0 0 0 0 0  9 0 0 0 -4.927" result="m"/><feComposite in="SourceGraphic" in2="m" operator="in"/></filter>
<filter id="s87" filterUnits="userSpaceOnUse" x="0" y="0" width="550" height="520" color-interpolation-filters="sRGB"><feTurbulence type="fractalNoise" baseFrequency="0.451" numOctaves="3" seed="98" result="n"/><feColorMatrix in="n" type="matrix" values="0 0 0 0 0  0 0 0 0 0  0 0 0 0 0  9 0 0 0 -4.517" result="m"/><feComposite in="SourceGraphic" in2="m" operator="in"/></filter>
<filter id="s88" filterUnits="userSpaceOnUse" x="0" y="0" width="550" height="520" color-interpolation-filters="sRGB"><feTurbulence type="fractalNoise" baseFrequency="0.451" numOctaves="3" seed="99" result="n"/><feColorMatrix in="n" type="matrix" values="0 0 0 0 0  0 0 0 0 0  0 0 0 0 0  9 0 0 0 -5.411" result="m"/><feComposite in="SourceGraphic" in2="m" operator="in"/></filter>
<filter id="s89" filterUnits="userSpaceOnUse" x="0" y="0" width="550" height="520" color-interpolation-filters="sRGB"><feTurbulence type="fractalNoise" baseFrequency="0.451" numOctaves="3" seed="100" result="n"/><feColorMatrix in="n" type="matrix" values="0 0 0 0 0  0 0 0 0 0  0 0 0 0 0  9 0 0 0 -5.293" result="m"/><feComposite in="SourceGraphic" in2="m" operator="in"/></filter>
<filter id="s90" filterUnits="userSpaceOnUse" x="0" y="0" width="550" height="520" color-interpolation-filters="sRGB"><feTurbulence type="fractalNoise" baseFrequency="0.295" numOctaves="3" seed="101" result="n"/><feColorMatrix in="n" type="matrix" values="0 0 0 0 0  0 0 0 0 0  0 0 0 0 0  9 0 0 0 -5.928" result="m"/><feComposite in="SourceGraphic" in2="m" operator="in"/></filter>
<filter id="s91" filterUnits="userSpaceOnUse" x="0" y="0" width="550" height="520" color-interpolation-filters="sRGB"><feTurbulence type="fractalNoise" baseFrequency="0.295" numOctaves="3" seed="102" result="n"/><feColorMatrix in="n" type="matrix" values="0 0 0 0 0  0 0 0 0 0  0 0 0 0 0  9 0 0 0 -6.261" result="m"/><feComposite in="SourceGraphic" in2="m" operator="in"/></filter>
<filter id="s92" filterUnits="userSpaceOnUse" x="0" y="0" width="550" height="520" color-interpolation-filters="sRGB"><feTurbulence type="fractalNoise" baseFrequency="0.328" numOctaves="3" seed="103" result="n"/><feColorMatrix in="n" type="matrix" values="0 0 0 0 0  0 0 0 0 0  0 0 0 0 0  9 0 0 0 -6.561" result="m"/><feComposite in="SourceGraphic" in2="m" operator="in"/></filter>
<filter id="s93" filterUnits="userSpaceOnUse" x="0" y="0" width="550" height="520" color-interpolation-filters="sRGB"><feTurbulence type="fractalNoise" baseFrequency="0.295" numOctaves="3" seed="104" result="n"/><feColorMatrix in="n" type="matrix" values="0 0 0 0 0  0 0 0 0 0  0 0 0 0 0  9 0 0 0 -5.811" result="m"/><feComposite in="SourceGraphic" in2="m" operator="in"/></filter>
<filter id="s94" filterUnits="userSpaceOnUse" x="0" y="0" width="550" height="520" color-interpolation-filters="sRGB"><feTurbulence type="fractalNoise" baseFrequency="0.295" numOctaves="3" seed="105" result="n"/><feColorMatrix in="n" type="matrix" values="0 0 0 0 0  0 0 0 0 0  0 0 0 0 0  9 0 0 0 -6.071" result="m"/><feComposite in="SourceGraphic" in2="m" operator="in"/></filter>
<filter id="s95" filterUnits="userSpaceOnUse" x="0" y="0" width="550" height="520" color-interpolation-filters="sRGB"><feTurbulence type="fractalNoise" baseFrequency="0.369" numOctaves="3" seed="106" result="n"/><feColorMatrix in="n" type="matrix" values="0 0 0 0 0  0 0 0 0 0  0 0 0 0 0  9 0 0 0 -4.744" result="m"/><feComposite in="SourceGraphic" in2="m" operator="in"/></filter>
<filter id="s96" filterUnits="userSpaceOnUse" x="0" y="0" width="550" height="520" color-interpolation-filters="sRGB"><feTurbulence type="fractalNoise" baseFrequency="0.369" numOctaves="3" seed="107" result="n"/><feColorMatrix in="n" type="matrix" values="0 0 0 0 0  0 0 0 0 0  0 0 0 0 0  9 0 0 0 -5.141" result="m"/><feComposite in="SourceGraphic" in2="m" operator="in"/></filter>
<filter id="s97" filterUnits="userSpaceOnUse" x="0" y="0" width="550" height="520" color-interpolation-filters="sRGB"><feTurbulence type="fractalNoise" baseFrequency="0.369" numOctaves="3" seed="108" result="n"/><feColorMatrix in="n" type="matrix" values="0 0 0 0 0  0 0 0 0 0  0 0 0 0 0  9 0 0 0 -5.411" result="m"/><feComposite in="SourceGraphic" in2="m" operator="in"/></filter>
<filter id="s98" filterUnits="userSpaceOnUse" x="0" y="0" width="550" height="520" color-interpolation-filters="sRGB"><feTurbulence type="fractalNoise" baseFrequency="0.369" numOctaves="3" seed="109" result="n"/><feColorMatrix in="n" type="matrix" values="0 0 0 0 0  0 0 0 0 0  0 0 0 0 0  9 0 0 0 -4.851" result="m"/><feComposite in="SourceGraphic" in2="m" operator="in"/></filter>
<filter id="s99" filterUnits="userSpaceOnUse" x="0" y="0" width="550" height="520" color-interpolation-filters="sRGB"><feTurbulence type="fractalNoise" baseFrequency="0.369" numOctaves="3" seed="110" result="n"/><feColorMatrix in="n" type="matrix" values="0 0 0 0 0  0 0 0 0 0  0 0 0 0 0  9 0 0 0 -5.141" result="m"/><feComposite in="SourceGraphic" in2="m" operator="in"/></filter>
<filter id="s100" filterUnits="userSpaceOnUse" x="0" y="0" width="550" height="520" color-interpolation-filters="sRGB"><feTurbulence type="fractalNoise" baseFrequency="0.369" numOctaves="3" seed="111" result="n"/><feColorMatrix in="n" type="matrix" values="0 0 0 0 0  0 0 0 0 0  0 0 0 0 0  9 0 0 0 -5.293" result="m"/><feComposite in="SourceGraphic" in2="m" operator="in"/></filter>
<filter id="s101" filterUnits="userSpaceOnUse" x="0" y="0" width="550" height="520" color-interpolation-filters="sRGB"><feTurbulence type="fractalNoise" baseFrequency="0.41" numOctaves="3" seed="112" result="n"/><feColorMatrix in="n" type="matrix" values="0 0 0 0 0  0 0 0 0 0  0 0 0 0 0  9 0 0 0 -5.189" result="m"/><feComposite in="SourceGraphic" in2="m" operator="in"/></filter>
<filter id="s102" filterUnits="userSpaceOnUse" x="0" y="0" width="550" height="520" color-interpolation-filters="sRGB"><feTurbulence type="fractalNoise" baseFrequency="0.41" numOctaves="3" seed="113" result="n"/><feColorMatrix in="n" type="matrix" values="0 0 0 0 0  0 0 0 0 0  0 0 0 0 0  9 0 0 0 -5.712" result="m"/><feComposite in="SourceGraphic" in2="m" operator="in"/></filter>
<filter id="s103" filterUnits="userSpaceOnUse" x="0" y="0" width="550" height="520" color-interpolation-filters="sRGB"><feTurbulence type="fractalNoise" baseFrequency="0.41" numOctaves="3" seed="114" result="n"/><feColorMatrix in="n" type="matrix" values="0 0 0 0 0  0 0 0 0 0  0 0 0 0 0  9 0 0 0 -5.712" result="m"/><feComposite in="SourceGraphic" in2="m" operator="in"/></filter>
<filter id="s104" filterUnits="userSpaceOnUse" x="0" y="0" width="550" height="520" color-interpolation-filters="sRGB"><feTurbulence type="fractalNoise" baseFrequency="0.41" numOctaves="3" seed="115" result="n"/><feColorMatrix in="n" type="matrix" values="0 0 0 0 0  0 0 0 0 0  0 0 0 0 0  9 0 0 0 -4.744" result="m"/><feComposite in="SourceGraphic" in2="m" operator="in"/></filter>
<filter id="s105" filterUnits="userSpaceOnUse" x="0" y="0" width="550" height="520" color-interpolation-filters="sRGB"><feTurbulence type="fractalNoise" baseFrequency="0.41" numOctaves="3" seed="116" result="n"/><feColorMatrix in="n" type="matrix" values="0 0 0 0 0  0 0 0 0 0  0 0 0 0 0  9 0 0 0 -4.927" result="m"/><feComposite in="SourceGraphic" in2="m" operator="in"/></filter>
<filter id="s106" filterUnits="userSpaceOnUse" x="0" y="0" width="550" height="520" color-interpolation-filters="sRGB"><feTurbulence type="fractalNoise" baseFrequency="0.41" numOctaves="3" seed="117" result="n"/><feColorMatrix in="n" type="matrix" values="0 0 0 0 0  0 0 0 0 0  0 0 0 0 0  9 0 0 0 -4.426" result="m"/><feComposite in="SourceGraphic" in2="m" operator="in"/></filter>
<filter id="s107" filterUnits="userSpaceOnUse" x="0" y="0" width="550" height="520" color-interpolation-filters="sRGB"><feTurbulence type="fractalNoise" baseFrequency="0.41" numOctaves="3" seed="118" result="n"/><feColorMatrix in="n" type="matrix" values="0 0 0 0 0  0 0 0 0 0  0 0 0 0 0  9 0 0 0 -5.293" result="m"/><feComposite in="SourceGraphic" in2="m" operator="in"/></filter>
<filter id="s108" filterUnits="userSpaceOnUse" x="0" y="0" width="550" height="520" color-interpolation-filters="sRGB"><feTurbulence type="fractalNoise" baseFrequency="0.41" numOctaves="3" seed="119" result="n"/><feColorMatrix in="n" type="matrix" values="0 0 0 0 0  0 0 0 0 0  0 0 0 0 0  9 0 0 0 -5.547" result="m"/><feComposite in="SourceGraphic" in2="m" operator="in"/></filter>
<filter id="soft" x="0" y="0" width="550" height="520" filterUnits="userSpaceOnUse" color-interpolation-filters="sRGB"><feConvolveMatrix order="3" kernelMatrix="1 2 1 2 6 2 1 2 1" divisor="18" edgeMode="duplicate"/></filter>
<clipPath id="land"><polygon points="100.8,60.0 103.0,57.7 107.0,57.0 110.8,54.6 114.6,53.8 117.7,52.3 119.2,49.2 121.5,48.0 124.6,47.7 127.7,47.7 130.8,47.0 135.4,47.4 140.0,47.0 143.0,45.4 144.6,42.3 147.0,41.5 149.2,41.8 150.8,43.0 151.5,46.0 153.8,48.5 157.0,50.0 159.2,52.3 160.8,56.0 161.5,61.5 162.3,67.7 162.3,73.8 160.8,79.2 160.8,83.0 163.0,86.2 166.6,87.8 169.2,91.4 172.4,92.0 175.6,91.4 178.7,92.5 180.9,94.6 181.4,96.7 183.0,98.8 186.1,98.6 188.3,99.9 189.8,98.3 189.0,101.0 187.7,104.0 187.7,107.3 187.2,110.5 185.6,112.0 181.9,112.6 177.7,113.1 174.0,112.6 171.3,113.6 173.0,115.4 171.5,118.5 173.0,121.5 170.8,124.6 170.0,127.7 168.5,130.0 167.0,133.0 165.4,134.6 167.0,137.0 169.2,138.5 168.5,141.5 170.8,144.6 168.5,147.0 170.0,148.5 167.7,150.8 170.0,153.0 173.0,155.4 177.0,157.7 180.0,160.0 181.5,163.0 182.3,166.0 186.0,167.7 189.2,165.4 191.5,167.7 192.3,172.3 194.2,177.3 196.0,181.0 194.2,186.0 191.3,188.8 188.0,191.0 188.0,195.0 190.0,199.0 193.5,202.8 197.5,203.8 201.0,204.0 204.8,206.2 208.5,209.0 211.5,211.2 214.4,215.0 215.4,220.8 213.5,226.5 215.4,232.3 216.3,238.0 218.3,242.0 216.3,244.8 209.6,245.8 204.8,246.7 202.0,244.8 199.0,238.0 196.2,232.3 192.3,231.3 187.5,232.3 185.6,236.0 182.7,241.0 178.8,242.9 176.0,243.8 177.0,249.6 178.8,257.3 180.8,263.0 183.0,270.5 185.5,278.0 188.5,284.0 191.2,289.2 194.0,293.0 197.0,295.0 198.0,297.9 195.8,300.5 193.4,303.5 191.1,309.2 190.0,313.8 190.6,318.5 191.1,323.0 190.6,327.7 191.1,332.3 194.6,335.8 198.0,336.9 200.9,339.2 200.4,341.5 196.9,342.7 194.6,343.8 195.8,345.6 199.2,347.3 202.7,350.8 206.1,355.4 211.5,361.2 217.3,365.0 221.2,368.8 222.0,373.7 221.5,378.5 222.6,388.0 223.2,397.7 223.8,407.3 224.8,417.7 226.8,425.4 230.0,433.0 233.8,438.8 237.2,443.0 239.8,448.5 242.0,456.0 244.0,463.8 246.0,471.5 245.0,475.4 242.0,478.3 238.3,477.3 234.4,474.4 231.5,467.7 227.7,460.0 222.0,450.4 216.2,440.8 210.4,431.2 206.5,423.5 203.7,415.8 201.7,410.0 199.0,399.6 196.2,392.0 192.3,386.0 188.5,380.4 183.7,374.6 178.8,368.8 175.0,365.0 171.2,359.2 166.9,353.5 163.5,350.0 160.0,346.5 156.5,342.5 154.2,339.6 149.8,333.5 146.0,325.8 145.0,318.0 145.0,308.5 146.0,298.8 146.0,291.0 145.0,284.0 143.0,277.7 141.0,270.5 137.7,263.0 133.8,253.5 130.0,245.8 124.2,238.0 118.5,230.4 113.7,225.6 111.7,220.8 113.7,217.0 118.5,213.0 125.2,209.2 128.2,204.6 129.8,198.5 130.0,190.8 129.2,183.0 128.3,175.4 129.0,169.5 131.5,166.2 136.0,164.6 140.8,163.0 143.0,160.8 143.3,157.0 141.5,154.2 137.7,151.3 132.0,150.4 124.0,150.5 123.6,146.0 123.5,141.7 121.0,139.0 117.5,134.0 114.6,128.5 112.5,125.0 111.0,120.0 110.5,114.6 111.5,110.0 114.0,108.3 118.4,106.8 115.0,105.8 110.0,105.5 105.0,106.5 101.7,107.8 96.5,105.0 90.8,101.9 92.5,95.4 95.4,89.6 98.3,83.8 99.2,76.0 100.2,68.5 101.0,62.7"/><polygon points="101.2,120.6 105.0,121.2 108.5,121.8 110.5,122.5 112.5,125.0 114.6,128.5 117.5,134.0 121.0,139.0 123.5,141.7 123.6,146.0 123.8,150.5 123.8,155.4 124.0,163.0 124.2,170.8 124.3,178.5 123.5,186.0 121.8,192.0 118.5,195.6 112.7,197.5 107.0,197.5 101.2,194.6 99.2,187.0 97.6,177.3 96.0,167.7 94.5,158.0 93.5,148.5 94.0,138.8 95.6,129.2 98.3,123.5"/><polygon points="191.6,71.8 194.6,71.2 197.8,71.8 197.5,74.3 198.0,76.7 199.4,78.0 201.2,79.2 203.3,80.8 205.0,83.6 205.5,86.9 206.6,90.0 208.2,92.3 207.5,94.8 203.2,95.4 200.2,96.0 198.2,93.4 196.5,88.6 195.0,85.4 193.8,82.1 193.3,79.6 191.7,77.0 190.6,74.5"/></clipPath>
</defs>
<rect width="550" height="520" fill="#fff"/>
<rect x="4.5" y="4.5" width="540" height="511" fill="none" stroke="#7a7a7a" stroke-width="1"/>

<rect x="19" y="19.3" width="297.7" height="481.6" fill="none" stroke="#505050" stroke-width="1.4"/>
<g clip-path="url(#land)"><g filter="url(#soft)"><rect x="80" y="30" width="180" height="460" fill="#0a6b0a"/>
<clipPath id="z0"><polygon points="100.8,60.0 103.0,57.7 107.0,57.0 110.8,54.6 114.6,53.8 117.7,52.3 119.2,49.2 121.5,48.0 124.6,47.7 127.7,47.7 130.8,47.0 135.4,47.4 140.0,47.0 143.0,45.4 144.6,42.3 147.0,41.5 149.2,41.8 150.8,43.0 151.5,46.0 153.8,48.5 157.0,50.0 159.2,52.3 160.8,56.0 161.5,61.5 162.3,67.7 162.3,73.8 160.8,79.2 160.8,83.0 163.0,86.2 166.6,87.8 169.2,91.4 172.4,92.0 175.6,91.4 178.7,92.5 180.9,94.6 181.4,96.7 183.0,98.8 186.1,98.6 188.3,99.9 189.8,98.3 189.0,101.0 187.7,104.0 187.7,107.3 187.2,110.5 185.6,112.0 181.9,112.6 177.7,113.1 174.0,112.6 171.3,113.6 173.0,115.4 171.5,118.5 173.0,121.5 170.8,124.6 170.0,127.7 168.5,130.0 167.0,133.0 165.4,134.6 167.0,137.0 169.2,138.5 168.5,141.5 170.8,144.6 168.5,147.0 170.0,148.5 167.7,150.8 170.0,153.0 173.0,155.4 177.0,157.7 180.0,160.0 181.5,163.0 182.3,166.0 186.0,167.7 189.2,165.4 191.5,167.7 192.3,172.3 194.2,177.3 196.0,181.0 194.2,186.0 191.3,188.8 188.0,191.0 188.0,195.0 190.0,199.0 193.5,202.8 197.5,203.8 201.0,204.0 204.8,206.2 208.5,209.0 211.5,211.2 214.4,215.0 215.4,220.8 213.5,226.5 215.4,232.3 216.3,238.0 218.3,242.0 216.3,244.8 209.6,245.8 204.8,246.7 202.0,244.8 199.0,238.0 196.2,232.3 192.3,231.3 187.5,232.3 185.6,236.0 182.7,241.0 178.8,242.9 176.0,243.8 177.0,249.6 178.8,257.3 180.8,263.0 183.0,270.5 185.5,278.0 188.5,284.0 191.2,289.2 194.0,293.0 197.0,295.0 198.0,297.9 195.8,300.5 193.4,303.5 191.1,309.2 190.0,313.8 190.6,318.5 191.1,323.0 190.6,327.7 191.1,332.3 194.6,335.8 198.0,336.9 200.9,339.2 200.4,341.5 196.9,342.7 194.6,343.8 195.8,345.6 199.2,347.3 202.7,350.8 206.1,355.4 211.5,361.2 217.3,365.0 221.2,368.8 222.0,373.7 221.5,378.5 222.6,388.0 223.2,397.7 223.8,407.3 224.8,417.7 226.8,425.4 230.0,433.0 233.8,438.8 237.2,443.0 239.8,448.5 242.0,456.0 244.0,463.8 246.0,471.5 245.0,475.4 242.0,478.3 238.3,477.3 234.4,474.4 231.5,467.7 227.7,460.0 222.0,450.4 216.2,440.8 210.4,431.2 206.5,423.5 203.7,415.8 201.7,410.0 199.0,399.6 196.2,392.0 192.3,386.0 188.5,380.4 183.7,374.6 178.8,368.8 175.0,365.0 171.2,359.2 166.9,353.5 163.5,350.0 160.0,346.5 156.5,342.5 154.2,339.6 149.8,333.5 146.0,325.8 145.0,318.0 145.0,308.5 146.0,298.8 146.0,291.0 145.0,284.0 143.0,277.7 141.0,270.5 137.7,263.0 133.8,253.5 130.0,245.8 124.2,238.0 118.5,230.4 113.7,225.6 111.7,220.8 113.7,217.0 118.5,213.0 125.2,209.2 128.2,204.6 129.8,198.5 130.0,190.8 129.2,183.0 128.3,175.4 129.0,169.5 131.5,166.2 136.0,164.6 140.8,163.0 143.0,160.8 143.3,157.0 141.5,154.2 137.7,151.3 132.0,150.4 124.0,150.5 123.6,146.0 123.5,141.7 121.0,139.0 117.5,134.0 114.6,128.5 112.5,125.0 111.0,120.0 110.5,114.6 111.5,110.0 114.0,108.3 118.4,106.8 115.0,105.8 110.0,105.5 105.0,106.5 101.7,107.8 96.5,105.0 90.8,101.9 92.5,95.4 95.4,89.6 98.3,83.8 99.2,76.0 100.2,68.5 101.0,62.7"/></clipPath><g clip-path="url(#z0)">
<rect x="89.8" y="40.5" width="157.2" height="438.8" fill="#1f7d1f" filter="url(#s0)"/>
</g>
<polygon points="100.8,60.0 103.0,57.7 107.0,57.0 110.8,54.6 114.6,53.8 117.7,52.3 119.5,49.0 123.0,50.8 124.6,53.8 123.0,57.7 124.6,61.5 125.4,66.2 127.0,69.2 130.8,70.8 135.4,73.0 137.0,75.4 136.2,80.0 137.5,83.5 135.7,85.8 132.3,86.9 128.8,89.2 126.0,88.0 123.0,91.0 119.6,92.1 112.7,93.3 111.0,95.0 109.8,99.6 109.5,105.5 105.0,106.5 101.7,107.8 96.5,105.0 90.8,101.9 92.5,95.4 95.4,89.6 98.3,83.8 99.2,76.0 100.2,68.5 101.0,62.7" fill="#c2c2c4" fill-opacity="1.0"/>
<clipPath id="z1"><polygon points="100.8,60.0 103.0,57.7 107.0,57.0 110.8,54.6 114.6,53.8 117.7,52.3 119.5,49.0 123.0,50.8 124.6,53.8 123.0,57.7 124.6,61.5 125.4,66.2 127.0,69.2 130.8,70.8 135.4,73.0 137.0,75.4 136.2,80.0 137.5,83.5 135.7,85.8 132.3,86.9 128.8,89.2 126.0,88.0 123.0,91.0 119.6,92.1 112.7,93.3 111.0,95.0 109.8,99.6 109.5,105.5 105.0,106.5 101.7,107.8 96.5,105.0 90.8,101.9 92.5,95.4 95.4,89.6 98.3,83.8 99.2,76.0 100.2,68.5 101.0,62.7"/></clipPath><g clip-path="url(#z1)">
<rect x="89.8" y="48.0" width="48.7" height="60.8" fill="#338833" filter="url(#s1)"/>
<rect x="89.8" y="48.0" width="48.7" height="60.8" fill="#0a6b0a" filter="url(#s2)"/>
</g>
<clipPath id="z2"><polygon points="114.0,50.0 121.0,48.0 124.6,53.8 123.0,57.7 122.0,62.0 116.0,60.0 112.0,56.0"/></clipPath><g clip-path="url(#z2)">
<rect x="111.0" y="47.0" width="14.6" height="16.0" fill="#0a6b0a" filter="url(#s3)"/>
</g>
<polygon points="123.0,49.0 143.0,45.5 145.0,58.0 143.0,72.0 139.0,79.0 136.0,74.0 130.0,71.0 126.0,66.0 124.6,61.5 124.5,54.0" fill="#5aaa14" fill-opacity="1.0"/>
<clipPath id="z3"><polygon points="123.0,49.0 143.0,45.5 145.0,58.0 143.0,72.0 139.0,79.0 136.0,74.0 130.0,71.0 126.0,66.0 124.6,61.5 124.5,54.0"/></clipPath><g clip-path="url(#z3)">
<rect x="122.0" y="44.5" width="24.0" height="35.5" fill="#ffff00" filter="url(#s4)"/>
<rect x="122.0" y="44.5" width="24.0" height="35.5" fill="#0a6b0a" filter="url(#s5)"/>
<rect x="122.0" y="44.5" width="24.0" height="35.5" fill="#ff9900" filter="url(#s6)"/>
</g>
<polygon points="126.0,48.0 136.0,47.5 136.0,52.5 131.0,55.0 127.0,53.0" fill="#ff2a00" fill-opacity="1.0"/>
<clipPath id="z4"><polygon points="126.0,48.0 136.0,47.5 136.0,52.5 131.0,55.0 127.0,53.0"/></clipPath><g clip-path="url(#z4)">
<rect x="125.0" y="46.5" width="12.0" height="9.5" fill="#ff9900" filter="url(#s7)"/>
</g>
<clipPath id="z5"><polygon points="136.0,50.0 143.0,47.0 145.0,56.0 140.0,62.0"/></clipPath><g clip-path="url(#z5)">
<rect x="135.0" y="46.0" width="11.0" height="17.0" fill="#ffff00" filter="url(#s8)"/>
</g>
<clipPath id="z6"><polygon points="140.0,48.0 146.0,44.0 147.0,60.0 146.0,80.0 142.0,84.0 139.0,79.0 143.0,70.0"/></clipPath><g clip-path="url(#z6)">
<rect x="138.0" y="43.0" width="10.0" height="42.0" fill="#5aaa14" filter="url(#s9)"/>
</g>
<polygon points="144.5,70.0 150.5,69.5 151.5,80.0 149.0,84.5 145.0,82.0" fill="#c2c2c4" fill-opacity="1.0"/>
<clipPath id="z7"><polygon points="144.5,70.0 150.5,69.5 151.5,80.0 149.0,84.5 145.0,82.0"/></clipPath><g clip-path="url(#z7)">
<rect x="143.5" y="68.5" width="9.0" height="17.0" fill="#338833" filter="url(#s10)"/>
</g>
<polygon points="154.0,50.0 159.0,52.5 161.5,62.0 161.5,72.0 158.5,71.0 155.5,60.0" fill="#ff9900" fill-opacity="1.0"/>
<clipPath id="z8"><polygon points="154.0,50.0 159.0,52.5 161.5,62.0 161.5,72.0 158.5,71.0 155.5,60.0"/></clipPath><g clip-path="url(#z8)">
<rect x="153.0" y="49.0" width="9.5" height="24.0" fill="#ff2a00" filter="url(#s11)"/>
<rect x="153.0" y="49.0" width="9.5" height="24.0" fill="#0a6b0a" filter="url(#s12)"/>
</g>
<polygon points="169.8,93.0 173.0,92.0 178.0,92.5 178.5,97.0 176.0,101.5 171.0,101.0" fill="#ff9900" fill-opacity="1.0"/>
<clipPath id="z9"><polygon points="169.8,93.0 173.0,92.0 178.0,92.5 178.5,97.0 176.0,101.5 171.0,101.0"/></clipPath><g clip-path="url(#z9)">
<rect x="168.8" y="91.0" width="10.7" height="11.5" fill="#ff2a00" filter="url(#s13)"/>
<rect x="168.8" y="91.0" width="10.7" height="11.5" fill="#0a6b0a" filter="url(#s14)"/>
<rect x="168.8" y="91.0" width="10.7" height="11.5" fill="#ffff00" filter="url(#s15)"/>
</g>
<polygon points="184.3,98.5 188.5,100.0 188.0,104.0 185.0,103.5" fill="#ff2a00" fill-opacity="1.0"/>
<polygon points="177.0,108.7 185.8,108.3 185.8,113.0 177.0,113.8" fill="#ff9900" fill-opacity="1.0"/>
<clipPath id="z11"><polygon points="177.0,108.7 185.8,108.3 185.8,113.0 177.0,113.8"/></clipPath><g clip-path="url(#z11)">
<rect x="176.0" y="107.3" width="10.8" height="7.5" fill="#ffff00" filter="url(#s16)"/>
<rect x="176.0" y="107.3" width="10.8" height="7.5" fill="#5aaa14" filter="url(#s17)"/>
</g>
<polygon points="191.6,71.8 194.6,71.2 197.8,71.8 197.5,74.3 198.0,76.7 199.4,78.0 201.2,79.2 203.3,80.8 205.0,83.6 205.5,86.9 206.6,90.0 208.2,92.3 207.5,94.8 203.2,95.4 200.2,96.0 198.2,93.4 196.5,88.6 195.0,85.4 193.8,82.1 193.3,79.6 191.7,77.0 190.6,74.5" fill="#ff2a00" fill-opacity="1.0"/>
<clipPath id="z12"><polygon points="191.6,71.8 194.6,71.2 197.8,71.8 197.5,74.3 198.0,76.7 199.4,78.0 201.2,79.2 203.3,80.8 205.0,83.6 205.5,86.9 206.6,90.0 208.2,92.3 207.5,94.8 203.2,95.4 200.2,96.0 198.2,93.4 196.5,88.6 195.0,85.4 193.8,82.1 193.3,79.6 191.7,77.0 190.6,74.5"/></clipPath><g clip-path="url(#z12)">
<rect x="189.6" y="70.2" width="19.6" height="26.8" fill="#0a6b0a" filter="url(#s18)"/>
<rect x="189.6" y="70.2" width="19.6" height="26.8" fill="#ff9900" filter="url(#s19)"/>
</g>
<polygon points="109.5,92.0 123.0,90.5 128.0,88.5 131.0,92.0 129.5,105.0 132.0,115.0 140.0,122.0 148.0,128.0 153.0,140.0 156.0,154.0 158.0,166.0 143.0,161.0 140.0,163.0 130.0,166.0 125.0,150.5 120.0,140.0 112.0,125.0 110.0,110.0" fill="#c2c2c4" fill-opacity="1.0"/>
<clipPath id="z13"><polygon points="109.5,92.0 123.0,90.5 128.0,88.5 131.0,92.0 129.5,105.0 132.0,115.0 140.0,122.0 148.0,128.0 153.0,140.0 156.0,154.0 158.0,166.0 143.0,161.0 140.0,163.0 130.0,166.0 125.0,150.5 120.0,140.0 112.0,125.0 110.0,110.0"/></clipPath><g clip-path="url(#z13)">
<rect x="108.5" y="87.5" width="50.5" height="79.5" fill="#338833" filter="url(#s20)"/>
<rect x="108.5" y="87.5" width="50.5" height="79.5" fill="#0a6b0a" filter="url(#s21)"/>
</g>
<polygon points="129.0,89.0 137.0,84.0 143.0,88.0 142.0,100.0 146.0,112.0 153.0,124.0 157.0,138.0 160.0,152.0 162.0,166.0 158.0,166.0 156.0,154.0 153.0,140.0 148.0,128.0 140.0,122.0 132.0,115.0 129.5,105.0 131.0,92.0" fill="#0a6b0a" fill-opacity="1.0"/>
<clipPath id="z14"><polygon points="129.0,89.0 137.0,84.0 143.0,88.0 142.0,100.0 146.0,112.0 153.0,124.0 157.0,138.0 160.0,152.0 162.0,166.0 158.0,166.0 156.0,154.0 153.0,140.0 148.0,128.0 140.0,122.0 132.0,115.0 129.5,105.0 131.0,92.0"/></clipPath><g clip-path="url(#z14)">
<rect x="128.0" y="83.0" width="35.0" height="84.0" fill="#c2c2c4" filter="url(#s22)"/>
<rect x="128.0" y="83.0" width="35.0" height="84.0" fill="#5aaa14" filter="url(#s23)"/>
</g>
<polygon points="101.2,120.6 105.0,121.2 108.5,121.8 110.5,122.5 112.5,125.0 114.6,128.5 117.5,134.0 121.0,139.0 123.5,141.7 123.6,146.0 123.8,150.5 123.8,155.4 124.0,163.0 124.2,170.8 124.3,178.5 123.5,186.0 121.8,192.0 118.5,195.6 112.7,197.5 107.0,197.5 101.2,194.6 99.2,187.0 97.6,177.3 96.0,167.7 94.5,158.0 93.5,148.5 94.0,138.8 95.6,129.2 98.3,123.5" fill="#0a6b0a" fill-opacity="1.0"/>
<clipPath id="z15"><polygon points="101.2,120.6 105.0,121.2 108.5,121.8 110.5,122.5 112.5,125.0 114.6,128.5 117.5,134.0 121.0,139.0 123.5,141.7 123.6,146.0 123.8,150.5 123.8,155.4 124.0,163.0 124.2,170.8 124.3,178.5 123.5,186.0 121.8,192.0 118.5,195.6 112.7,197.5 107.0,197.5 101.2,194.6 99.2,187.0 97.6,177.3 96.0,167.7 94.5,158.0 93.5,148.5 94.0,138.8 95.6,129.2 98.3,123.5"/></clipPath><g clip-path="url(#z15)">
<rect x="92.5" y="119.6" width="32.8" height="78.9" fill="#5aaa14" filter="url(#s24)"/>
<rect x="92.5" y="119.6" width="32.8" height="78.9" fill="#c2c2c4" filter="url(#s25)"/>
</g>
<polygon points="92.0,125.0 98.5,122.0 100.0,126.0 99.0,140.0 99.5,160.0 101.0,180.0 104.0,197.0 92.0,197.0" fill="#c2c2c4" fill-opacity="1.0"/>
<clipPath id="z16"><polygon points="92.0,125.0 98.5,122.0 100.0,126.0 99.0,140.0 99.5,160.0 101.0,180.0 104.0,197.0 92.0,197.0"/></clipPath><g clip-path="url(#z16)">
<rect x="91.0" y="121.0" width="14.0" height="77.0" fill="#338833" filter="url(#s26)"/>
</g>
<polygon points="99.0,124.0 104.0,122.0 108.0,126.0 110.0,140.0 113.0,160.0 117.0,180.0 121.0,194.0 112.0,197.0 105.0,195.0 102.0,180.0 100.0,160.0 99.5,140.0" fill="#5aaa14" fill-opacity="1.0"/>
<clipPath id="z17"><polygon points="99.0,124.0 104.0,122.0 108.0,126.0 110.0,140.0 113.0,160.0 117.0,180.0 121.0,194.0 112.0,197.0 105.0,195.0 102.0,180.0 100.0,160.0 99.5,140.0"/></clipPath><g clip-path="url(#z17)">
<rect x="98.0" y="121.0" width="24.0" height="77.0" fill="#ffff00" filter="url(#s27)"/>
<rect x="98.0" y="121.0" width="24.0" height="77.0" fill="#ff9900" filter="url(#s28)"/>
<rect x="98.0" y="121.0" width="24.0" height="77.0" fill="#0a6b0a" filter="url(#s29)"/>
</g>
<polygon points="103.5,127.0 105.5,127.5 109.5,144.0 113.5,164.0 118.0,184.0 120.5,192.5 118.5,192.5 111.5,166.0 107.0,148.0" fill="#ff9900" fill-opacity="1.0"/>
<clipPath id="z18"><polygon points="103.5,127.0 105.5,127.5 109.5,144.0 113.5,164.0 118.0,184.0 120.5,192.5 118.5,192.5 111.5,166.0 107.0,148.0"/></clipPath><g clip-path="url(#z18)">
<rect x="102.5" y="126.0" width="19.0" height="67.5" fill="#ffff00" filter="url(#s30)"/>
<rect x="102.5" y="126.0" width="19.0" height="67.5" fill="#5aaa14" filter="url(#s31)"/>
</g>
<clipPath id="z19"><polygon points="114.0,180.0 118.0,178.0 122.5,186.0 121.5,194.0 118.0,194.0"/></clipPath><g clip-path="url(#z19)">
<rect x="113.0" y="177.0" width="10.5" height="18.0" fill="#ffff00" filter="url(#s32)"/>
<rect x="113.0" y="177.0" width="10.5" height="18.0" fill="#ff9900" filter="url(#s33)"/>
</g>
<polygon points="108.5,122.0 112.5,125.0 116.0,131.0 121.0,139.0 123.6,143.0 123.8,155.0 120.5,153.0 116.0,143.0 111.0,131.0" fill="#c2c2c4" fill-opacity="1.0"/>
<clipPath id="z20"><polygon points="108.5,122.0 112.5,125.0 116.0,131.0 121.0,139.0 123.6,143.0 123.8,155.0 120.5,153.0 116.0,143.0 111.0,131.0"/></clipPath><g clip-path="url(#z20)">
<rect x="107.5" y="121.0" width="17.3" height="35.0" fill="#338833" filter="url(#s34)"/>
</g>
<polygon points="128.0,166.0 136.0,164.5 143.0,161.0 150.0,165.0 155.0,168.0 157.0,180.0 156.0,198.0 146.0,198.0 145.0,205.0 130.0,205.0 129.0,185.0" fill="#c2c2c4" fill-opacity="1.0"/>
<clipPath id="z21"><polygon points="128.0,166.0 136.0,164.5 143.0,161.0 150.0,165.0 155.0,168.0 157.0,180.0 156.0,198.0 146.0,198.0 145.0,205.0 130.0,205.0 129.0,185.0"/></clipPath><g clip-path="url(#z21)">
<rect x="127.0" y="160.0" width="31.0" height="46.0" fill="#338833" filter="url(#s35)"/>
<rect x="127.0" y="160.0" width="31.0" height="46.0" fill="#0a6b0a" filter="url(#s36)"/>
</g>
<polygon points="156.0,168.0 165.0,172.0 172.0,173.0 178.0,171.0 182.0,185.0 182.0,200.0 177.0,199.0 165.0,200.0 158.0,198.0 157.0,180.0" fill="#ff9900" fill-opacity="1.0"/>
<clipPath id="z22"><polygon points="156.0,168.0 165.0,172.0 172.0,173.0 178.0,171.0 182.0,185.0 182.0,200.0 177.0,199.0 165.0,200.0 158.0,198.0 157.0,180.0"/></clipPath><g clip-path="url(#z22)">
<rect x="155.0" y="167.0" width="28.0" height="34.0" fill="#0a6b0a" filter="url(#s37)"/>
<rect x="155.0" y="167.0" width="28.0" height="34.0" fill="#ff2a00" filter="url(#s38)"/>
<rect x="155.0" y="167.0" width="28.0" height="34.0" fill="#ffff00" filter="url(#s39)"/>
<rect x="155.0" y="167.0" width="28.0" height="34.0" fill="#5aaa14" filter="url(#s40)"/>
</g>
<clipPath id="z23"><polygon points="156.0,180.0 160.0,178.0 162.0,198.0 157.0,198.0"/></clipPath><g clip-path="url(#z23)">
<rect x="155.0" y="177.0" width="8.0" height="22.0" fill="#0a6b0a" filter="url(#s41)"/>
</g>
<polygon points="159.5,164.5 166.0,167.0 165.5,172.5 160.0,172.5" fill="#ff2a00" fill-opacity="1.0"/>
<clipPath id="z24"><polygon points="159.5,164.5 166.0,167.0 165.5,172.5 160.0,172.5"/></clipPath><g clip-path="url(#z24)">
<rect x="158.5" y="163.5" width="8.5" height="10.0" fill="#ff9900" filter="url(#s42)"/>
</g>
<polygon points="175.5,172.0 179.5,171.0 186.5,190.0 194.5,214.0 198.5,231.0 196.5,236.0 190.5,220.0 182.0,196.0" fill="#5aaa14" fill-opacity="1.0"/>
<clipPath id="z25"><polygon points="175.5,172.0 179.5,171.0 186.5,190.0 194.5,214.0 198.5,231.0 196.5,236.0 190.5,220.0 182.0,196.0"/></clipPath><g clip-path="url(#z25)">
<rect x="174.5" y="170.0" width="25.0" height="67.0" fill="#0a6b0a" filter="url(#s43)"/>
<rect x="174.5" y="170.0" width="25.0" height="67.0" fill="#ffff00" filter="url(#s44)"/>
</g>
<polygon points="180.5,184.0 182.0,184.0 192.0,213.0 197.5,231.0 196.0,233.0 190.5,215.0" fill="#ffff00" fill-opacity="1.0"/>
<clipPath id="z26"><polygon points="180.5,184.0 182.0,184.0 192.0,213.0 197.5,231.0 196.0,233.0 190.5,215.0"/></clipPath><g clip-path="url(#z26)">
<rect x="179.5" y="183.0" width="19.0" height="51.0" fill="#5aaa14" filter="url(#s45)"/>
</g>
<polygon points="112.0,210.0 128.0,203.0 146.0,201.0 152.0,210.0 154.0,232.0 148.0,236.0 140.0,238.0 136.0,246.0 124.0,236.0" fill="#0a6b0a" fill-opacity="1.0"/>
<clipPath id="z27"><polygon points="112.0,210.0 128.0,203.0 146.0,201.0 152.0,210.0 154.0,232.0 148.0,236.0 140.0,238.0 136.0,246.0 124.0,236.0"/></clipPath><g clip-path="url(#z27)">
<rect x="111.0" y="200.0" width="44.0" height="47.0" fill="#c2c2c4" filter="url(#s46)"/>
<rect x="111.0" y="200.0" width="44.0" height="47.0" fill="#5aaa14" filter="url(#s47)"/>
</g>
<polygon points="134.0,208.0 146.0,204.0 151.0,210.0 152.0,222.0 153.0,233.0 146.0,235.0 138.0,230.0 136.0,220.0" fill="#c2c2c4" fill-opacity="1.0"/>
<clipPath id="z28"><polygon points="134.0,208.0 146.0,204.0 151.0,210.0 152.0,222.0 153.0,233.0 146.0,235.0 138.0,230.0 136.0,220.0"/></clipPath><g clip-path="url(#z28)">
<rect x="133.0" y="203.0" width="21.0" height="33.0" fill="#0a6b0a" filter="url(#s48)"/>
<rect x="133.0" y="203.0" width="21.0" height="33.0" fill="#338833" filter="url(#s49)"/>
</g>
<clipPath id="z29"><polygon points="126.0,209.0 134.0,210.0 137.0,222.0 133.0,226.0 127.0,218.0"/></clipPath><g clip-path="url(#z29)">
<rect x="125.0" y="208.0" width="13.0" height="19.0" fill="#ff9900" filter="url(#s50)"/>
<rect x="125.0" y="208.0" width="13.0" height="19.0" fill="#ffff00" filter="url(#s51)"/>
</g>
<polygon points="110.0,223.0 119.6,225.2 129.2,229.5 133.4,234.8 136.6,240.0 138.5,244.5 137.5,248.0 131.0,248.0 128.1,241.6 125.0,236.3 120.7,231.0 116.0,227.0" fill="#ff2a00" fill-opacity="1.0"/>
<clipPath id="z30"><polygon points="110.0,223.0 119.6,225.2 129.2,229.5 133.4,234.8 136.6,240.0 138.5,244.5 137.5,248.0 131.0,248.0 128.1,241.6 125.0,236.3 120.7,231.0 116.0,227.0"/></clipPath><g clip-path="url(#z30)">
<rect x="109.0" y="222.0" width="30.5" height="27.0" fill="#ff9900" filter="url(#s52)"/>
</g>
<polygon points="152.0,205.0 165.0,202.0 185.0,202.0 196.0,206.0 197.0,230.0 186.0,232.0 178.0,243.0 177.0,250.0 179.0,258.0 181.5,265.0 175.0,268.0 167.0,273.0 158.0,279.0 150.0,285.5 144.0,285.5 140.0,268.0 134.0,252.0 140.0,240.0 152.0,234.0" fill="#0a6b0a" fill-opacity="1.0"/>
<clipPath id="z31"><polygon points="152.0,205.0 165.0,202.0 185.0,202.0 196.0,206.0 197.0,230.0 186.0,232.0 178.0,243.0 177.0,250.0 179.0,258.0 181.5,265.0 175.0,268.0 167.0,273.0 158.0,279.0 150.0,285.5 144.0,285.5 140.0,268.0 134.0,252.0 140.0,240.0 152.0,234.0"/></clipPath><g clip-path="url(#z31)">
<rect x="133.0" y="201.0" width="65.0" height="85.5" fill="#5aaa14" filter="url(#s53)"/>
<rect x="133.0" y="201.0" width="65.0" height="85.5" fill="#ff9900" filter="url(#s54)"/>
<rect x="133.0" y="201.0" width="65.0" height="85.5" fill="#ff2a00" filter="url(#s55)"/>
<rect x="133.0" y="201.0" width="65.0" height="85.5" fill="#ffff00" filter="url(#s56)"/>
<rect x="133.0" y="201.0" width="65.0" height="85.5" fill="#c2c2c4" filter="url(#s57)"/>
</g>
<polygon points="158.0,208.0 170.0,204.0 184.0,205.0 192.0,212.0 193.0,227.0 184.0,233.0 176.0,238.0 166.0,238.0 160.0,226.0" fill="#ff9900" fill-opacity="1.0"/>
<clipPath id="z32"><polygon points="158.0,208.0 170.0,204.0 184.0,205.0 192.0,212.0 193.0,227.0 184.0,233.0 176.0,238.0 166.0,238.0 160.0,226.0"/></clipPath><g clip-path="url(#z32)">
<rect x="157.0" y="203.0" width="37.0" height="36.0" fill="#ff2a00" filter="url(#s58)"/>
<rect x="157.0" y="203.0" width="37.0" height="36.0" fill="#5aaa14" filter="url(#s59)"/>
<rect x="157.0" y="203.0" width="37.0" height="36.0" fill="#0a6b0a" filter="url(#s60)"/>
</g>
<clipPath id="z33"><polygon points="150.0,232.0 165.0,236.0 176.0,240.0 170.0,250.0 158.0,252.0 148.0,245.0"/></clipPath><g clip-path="url(#z33)">
<rect x="147.0" y="231.0" width="30.0" height="22.0" fill="#ff9900" filter="url(#s61)"/>
<rect x="147.0" y="231.0" width="30.0" height="22.0" fill="#ff2a00" filter="url(#s62)"/>
</g>
<polygon points="195.0,203.0 201.0,204.0 208.5,209.0 214.4,215.0 215.4,220.8 213.5,226.5 215.4,232.3 218.3,242.0 204.8,246.7 199.0,238.0 196.0,232.0" fill="#0a6b0a" fill-opacity="1.0"/>
<clipPath id="z34"><polygon points="195.0,203.0 201.0,204.0 208.5,209.0 214.4,215.0 215.4,220.8 213.5,226.5 215.4,232.3 218.3,242.0 204.8,246.7 199.0,238.0 196.0,232.0"/></clipPath><g clip-path="url(#z34)">
<rect x="194.0" y="202.0" width="25.3" height="45.7" fill="#5aaa14" filter="url(#s63)"/>
</g>
<polygon points="146.0,284.0 165.0,276.0 181.0,265.0 186.0,285.0 194.0,300.0 191.0,335.0 180.0,340.0 165.0,340.0 155.0,332.0 147.0,310.0" fill="#0a6b0a" fill-opacity="1.0"/>
<clipPath id="z35"><polygon points="146.0,284.0 165.0,276.0 181.0,265.0 186.0,285.0 194.0,300.0 191.0,335.0 180.0,340.0 165.0,340.0 155.0,332.0 147.0,310.0"/></clipPath><g clip-path="url(#z35)">
<rect x="145.0" y="264.0" width="50.0" height="77.0" fill="#5aaa14" filter="url(#s64)"/>
<rect x="145.0" y="264.0" width="50.0" height="77.0" fill="#ffff00" filter="url(#s65)"/>
<rect x="145.0" y="264.0" width="50.0" height="77.0" fill="#ff9900" filter="url(#s66)"/>
</g>
<clipPath id="z36"><polygon points="160.0,295.0 166.0,290.0 170.0,300.0 168.0,320.0 166.0,336.0 162.0,330.0 161.0,312.0"/></clipPath><g clip-path="url(#z36)">
<rect x="159.0" y="289.0" width="12.0" height="48.0" fill="#ffff00" filter="url(#s67)"/>
<rect x="159.0" y="289.0" width="12.0" height="48.0" fill="#ff9900" filter="url(#s68)"/>
</g>
<polygon points="176.0,272.0 184.0,278.0 192.0,294.0 191.0,315.0 188.0,330.0 182.0,312.0 178.0,295.0" fill="#0a6b0a" fill-opacity="1.0"/>
<clipPath id="z37"><polygon points="176.0,272.0 184.0,278.0 192.0,294.0 191.0,315.0 188.0,330.0 182.0,312.0 178.0,295.0"/></clipPath><g clip-path="url(#z37)">
<rect x="175.0" y="271.0" width="18.0" height="60.0" fill="#ff9900" filter="url(#s69)"/>
<rect x="175.0" y="271.0" width="18.0" height="60.0" fill="#5aaa14" filter="url(#s70)"/>
<rect x="175.0" y="271.0" width="18.0" height="60.0" fill="#ff2a00" filter="url(#s71)"/>
</g>
<polygon points="183.0,334.0 194.0,335.5 200.5,339.5 196.0,342.5 188.0,341.0 183.0,339.5" fill="#c2c2c4" fill-opacity="1.0"/>
<clipPath id="z38"><polygon points="183.0,334.0 194.0,335.5 200.5,339.5 196.0,342.5 188.0,341.0 183.0,339.5"/></clipPath><g clip-path="url(#z38)">
<rect x="182.0" y="333.0" width="19.5" height="10.5" fill="#9ab49a" filter="url(#s72)"/>
</g>
<polygon points="116.5,226.0 122.0,223.5 129.0,231.0 135.4,243.0 139.0,250.0 142.0,257.0 145.5,264.0 148.8,271.0 151.5,278.0 153.5,284.0 155.5,291.0 158.0,300.0 160.0,312.0 161.5,327.0 163.5,339.0 160.0,345.5 154.2,339.6 149.8,333.5 146.0,325.8 145.0,318.0 145.0,308.5 146.0,298.8 146.0,291.0 145.0,284.0 143.0,277.7 141.0,270.5 137.7,263.0 133.8,253.5 130.0,245.8 124.2,238.0 118.5,230.4" fill="#ff2a00" fill-opacity="1.0"/>
<clipPath id="z39"><polygon points="116.5,226.0 122.0,223.5 129.0,231.0 135.4,243.0 139.0,250.0 142.0,257.0 145.5,264.0 148.8,271.0 151.5,278.0 153.5,284.0 155.5,291.0 158.0,300.0 160.0,312.0 161.5,327.0 163.5,339.0 160.0,345.5 154.2,339.6 149.8,333.5 146.0,325.8 145.0,318.0 145.0,308.5 146.0,298.8 146.0,291.0 145.0,284.0 143.0,277.7 141.0,270.5 137.7,263.0 133.8,253.5 130.0,245.8 124.2,238.0 118.5,230.4"/></clipPath><g clip-path="url(#z39)">
<rect x="115.5" y="222.5" width="49.0" height="124.0" fill="#ff9900" filter="url(#s73)"/>
<rect x="115.5" y="222.5" width="49.0" height="124.0" fill="#5aaa14" filter="url(#s74)"/>
</g>
<polygon points="160.0,346.5 170.0,339.0 185.0,340.0 199.0,343.0 206.0,355.0 218.0,365.0 222.0,374.0 222.0,410.0 225.0,428.0 236.0,443.0 242.0,456.0 246.0,472.0 242.0,478.0 234.0,474.0 222.0,450.0 210.0,431.0 201.0,410.0 192.0,386.0 178.0,368.0 166.0,353.0" fill="#5aaa14" fill-opacity="1.0"/>
<clipPath id="z40"><polygon points="160.0,346.5 170.0,339.0 185.0,340.0 199.0,343.0 206.0,355.0 218.0,365.0 222.0,374.0 222.0,410.0 225.0,428.0 236.0,443.0 242.0,456.0 246.0,472.0 242.0,478.0 234.0,474.0 222.0,450.0 210.0,431.0 201.0,410.0 192.0,386.0 178.0,368.0 166.0,353.0"/></clipPath><g clip-path="url(#z40)">
<rect x="159.0" y="338.0" width="88.0" height="141.0" fill="#0a6b0a" filter="url(#s75)"/>
<rect x="159.0" y="338.0" width="88.0" height="141.0" fill="#ff9900" filter="url(#s76)"/>
<rect x="159.0" y="338.0" width="88.0" height="141.0" fill="#ff2a00" filter="url(#s77)"/>
</g>
<polygon points="160.0,345.0 166.0,341.0 171.0,343.0 170.0,352.0 165.0,352.0" fill="#ff2a00" fill-opacity="1.0"/>
<clipPath id="z41"><polygon points="160.0,345.0 166.0,341.0 171.0,343.0 170.0,352.0 165.0,352.0"/></clipPath><g clip-path="url(#z41)">
<rect x="159.0" y="340.0" width="13.0" height="13.0" fill="#ff9900" filter="url(#s78)"/>
<rect x="159.0" y="340.0" width="13.0" height="13.0" fill="#5aaa14" filter="url(#s79)"/>
</g>
<clipPath id="z42"><polygon points="190.0,358.0 200.0,356.0 207.0,362.0 210.0,372.0 200.0,372.0 192.0,366.0"/></clipPath><g clip-path="url(#z42)">
<rect x="189.0" y="355.0" width="22.0" height="18.0" fill="#ff2a00" filter="url(#s80)"/>
</g>
<polygon points="188.0,372.0 196.0,370.0 204.0,368.0 208.5,372.0 209.5,380.0 211.0,392.0 213.0,402.0 216.0,410.0 221.0,418.0 226.0,428.0 232.0,436.0 237.0,443.0 236.0,447.0 230.0,445.0 223.0,442.5 216.0,436.0 210.0,428.0 206.5,420.0 203.5,412.0 201.5,404.0 199.5,396.0 196.5,388.0 193.0,380.0" fill="#ff2a00" fill-opacity="1.0"/>
<clipPath id="z43"><polygon points="188.0,372.0 196.0,370.0 204.0,368.0 208.5,372.0 209.5,380.0 211.0,392.0 213.0,402.0 216.0,410.0 221.0,418.0 226.0,428.0 232.0,436.0 237.0,443.0 236.0,447.0 230.0,445.0 223.0,442.5 216.0,436.0 210.0,428.0 206.5,420.0 203.5,412.0 201.5,404.0 199.5,396.0 196.5,388.0 193.0,380.0"/></clipPath><g clip-path="url(#z43)">
<rect x="187.0" y="367.0" width="51.0" height="81.0" fill="#ff9900" filter="url(#s81)"/>
<rect x="187.0" y="367.0" width="51.0" height="81.0" fill="#5aaa14" filter="url(#s82)"/>
</g>
<polygon points="168.0,356.0 177.0,364.0 186.0,372.0 193.0,380.0 196.5,388.0 199.5,396.0 201.5,404.0 203.5,412.0 206.5,420.0 210.0,428.0 216.0,436.0 223.0,442.5 215.0,446.0 205.0,432.0 197.0,415.0 192.0,400.0 185.0,386.0 172.0,370.0" fill="#0a6b0a" fill-opacity="1.0"/>
<clipPath id="z44"><polygon points="168.0,356.0 177.0,364.0 186.0,372.0 193.0,380.0 196.5,388.0 199.5,396.0 201.5,404.0 203.5,412.0 206.5,420.0 210.0,428.0 216.0,436.0 223.0,442.5 215.0,446.0 205.0,432.0 197.0,415.0 192.0,400.0 185.0,386.0 172.0,370.0"/></clipPath><g clip-path="url(#z44)">
<rect x="167.0" y="355.0" width="57.0" height="92.0" fill="#5aaa14" filter="url(#s83)"/>
<rect x="167.0" y="355.0" width="57.0" height="92.0" fill="#ff9900" filter="url(#s84)"/>
</g>
<clipPath id="z45"><polygon points="186.0,352.0 196.0,351.0 204.0,357.0 206.0,364.0 200.0,368.0 192.0,364.0"/></clipPath><g clip-path="url(#z45)">
<rect x="185.0" y="350.0" width="22.0" height="19.0" fill="#5aaa14" filter="url(#s85)"/>
<rect x="185.0" y="350.0" width="22.0" height="19.0" fill="#0a6b0a" filter="url(#s86)"/>
</g>
<polygon points="205.0,356.0 215.0,363.0 221.0,370.0 220.0,380.0 221.0,395.0 222.0,406.0 219.0,406.0 216.0,395.0 215.0,380.0 211.0,368.0" fill="#c2c2c4" fill-opacity="1.0"/>
<clipPath id="z46"><polygon points="205.0,356.0 215.0,363.0 221.0,370.0 220.0,380.0 221.0,395.0 222.0,406.0 219.0,406.0 216.0,395.0 215.0,380.0 211.0,368.0"/></clipPath><g clip-path="url(#z46)">
<rect x="204.0" y="355.0" width="19.0" height="52.0" fill="#338833" filter="url(#s87)"/>
<rect x="204.0" y="355.0" width="19.0" height="52.0" fill="#5aaa14" filter="url(#s88)"/>
</g>
<polygon points="223.0,445.0 230.0,440.5 236.0,443.0 242.0,456.0 246.0,472.0 242.0,478.0 234.0,474.0 226.0,456.0" fill="#0a6b0a" fill-opacity="1.0"/>
<clipPath id="z47"><polygon points="223.0,445.0 230.0,440.5 236.0,443.0 242.0,456.0 246.0,472.0 242.0,478.0 234.0,474.0 226.0,456.0"/></clipPath><g clip-path="url(#z47)">
<rect x="222.0" y="439.5" width="25.0" height="39.5" fill="#5aaa14" filter="url(#s89)"/>
</g>
<polygon points="239.5,450.0 243.5,461.0 246.0,471.5 243.5,476.0 241.5,465.0" fill="#c2c2c4" fill-opacity="1.0"/>
</g></g>
<polygon points="100.8,60.0 103.0,57.7 107.0,57.0 110.8,54.6 114.6,53.8 117.7,52.3 119.2,49.2 121.5,48.0 124.6,47.7 127.7,47.7 130.8,47.0 135.4,47.4 140.0,47.0 143.0,45.4 144.6,42.3 147.0,41.5 149.2,41.8 150.8,43.0 151.5,46.0 153.8,48.5 157.0,50.0 159.2,52.3 160.8,56.0 161.5,61.5 162.3,67.7 162.3,73.8 160.8,79.2 160.8,83.0 163.0,86.2 166.6,87.8 169.2,91.4 172.4,92.0 175.6,91.4 178.7,92.5 180.9,94.6 181.4,96.7 183.0,98.8 186.1,98.6 188.3,99.9 189.8,98.3 189.0,101.0 187.7,104.0 187.7,107.3 187.2,110.5 185.6,112.0 181.9,112.6 177.7,113.1 174.0,112.6 171.3,113.6 173.0,115.4 171.5,118.5 173.0,121.5 170.8,124.6 170.0,127.7 168.5,130.0 167.0,133.0 165.4,134.6 167.0,137.0 169.2,138.5 168.5,141.5 170.8,144.6 168.5,147.0 170.0,148.5 167.7,150.8 170.0,153.0 173.0,155.4 177.0,157.7 180.0,160.0 181.5,163.0 182.3,166.0 186.0,167.7 189.2,165.4 191.5,167.7 192.3,172.3 194.2,177.3 196.0,181.0 194.2,186.0 191.3,188.8 188.0,191.0 188.0,195.0 190.0,199.0 193.5,202.8 197.5,203.8 201.0,204.0 204.8,206.2 208.5,209.0 211.5,211.2 214.4,215.0 215.4,220.8 213.5,226.5 215.4,232.3 216.3,238.0 218.3,242.0 216.3,244.8 209.6,245.8 204.8,246.7 202.0,244.8 199.0,238.0 196.2,232.3 192.3,231.3 187.5,232.3 185.6,236.0 182.7,241.0 178.8,242.9 176.0,243.8 177.0,249.6 178.8,257.3 180.8,263.0 183.0,270.5 185.5,278.0 188.5,284.0 191.2,289.2 194.0,293.0 197.0,295.0 198.0,297.9 195.8,300.5 193.4,303.5 191.1,309.2 190.0,313.8 190.6,318.5 191.1,323.0 190.6,327.7 191.1,332.3 194.6,335.8 198.0,336.9 200.9,339.2 200.4,341.5 196.9,342.7 194.6,343.8 195.8,345.6 199.2,347.3 202.7,350.8 206.1,355.4 211.5,361.2 217.3,365.0 221.2,368.8 222.0,373.7 221.5,378.5 222.6,388.0 223.2,397.7 223.8,407.3 224.8,417.7 226.8,425.4 230.0,433.0 233.8,438.8 237.2,443.0 239.8,448.5 242.0,456.0 244.0,463.8 246.0,471.5 245.0,475.4 242.0,478.3 238.3,477.3 234.4,474.4 231.5,467.7 227.7,460.0 222.0,450.4 216.2,440.8 210.4,431.2 206.5,423.5 203.7,415.8 201.7,410.0 199.0,399.6 196.2,392.0 192.3,386.0 188.5,380.4 183.7,374.6 178.8,368.8 175.0,365.0 171.2,359.2 166.9,353.5 163.5,350.0 160.0,346.5 156.5,342.5 154.2,339.6 149.8,333.5 146.0,325.8 145.0,318.0 145.0,308.5 146.0,298.8 146.0,291.0 145.0,284.0 143.0,277.7 141.0,270.5 137.7,263.0 133.8,253.5 130.0,245.8 124.2,238.0 118.5,230.4 113.7,225.6 111.7,220.8 113.7,217.0 118.5,213.0 125.2,209.2 128.2,204.6 129.8,198.5 130.0,190.8 129.2,183.0 128.3,175.4 129.0,169.5 131.5,166.2 136.0,164.6 140.8,163.0 143.0,160.8 143.3,157.0 141.5,154.2 137.7,151.3 132.0,150.4 124.0,150.5 123.6,146.0 123.5,141.7 121.0,139.0 117.5,134.0 114.6,128.5 112.5,125.0 111.0,120.0 110.5,114.6 111.5,110.0 114.0,108.3 118.4,106.8 115.0,105.8 110.0,105.5 105.0,106.5 101.7,107.8 96.5,105.0 90.8,101.9 92.5,95.4 95.4,89.6 98.3,83.8 99.2,76.0 100.2,68.5 101.0,62.7" fill="none" stroke="#1f68f4" stroke-linejoin="round" stroke-width="1.9"/>
<polygon points="101.2,120.6 105.0,121.2 108.5,121.8 110.5,122.5 112.5,125.0 114.6,128.5 117.5,134.0 121.0,139.0 123.5,141.7 123.6,146.0 123.8,150.5 123.8,155.4 124.0,163.0 124.2,170.8 124.3,178.5 123.5,186.0 121.8,192.0 118.5,195.6 112.7,197.5 107.0,197.5 101.2,194.6 99.2,187.0 97.6,177.3 96.0,167.7 94.5,158.0 93.5,148.5 94.0,138.8 95.6,129.2 98.3,123.5" fill="none" stroke="#1f68f4" stroke-linejoin="round" stroke-width="1.9"/>
<polygon points="191.6,71.8 194.6,71.2 197.8,71.8 197.5,74.3 198.0,76.7 199.4,78.0 201.2,79.2 203.3,80.8 205.0,83.6 205.5,86.9 206.6,90.0 208.2,92.3 207.5,94.8 203.2,95.4 200.2,96.0 198.2,93.4 196.5,88.6 195.0,85.4 193.8,82.1 193.3,79.6 191.7,77.0 190.6,74.5" fill="none" stroke="#1f68f4" stroke-linejoin="round" stroke-width="1.6"/>
<polyline points="189.8,98.3 191.4,95.7 193.0,93.0 195.1,92.5 196.2,94.0 195.7,96.7 196.7,98.8 198.3,98.3 198.8,96.2 200.4,95.1" fill="none" stroke="#1f68f4" stroke-linejoin="round" stroke-width="1.9"/>
<polyline points="119.5,49.0 123.0,50.8 124.6,53.8 123.0,57.7 124.6,61.5 125.4,66.2 127.0,69.2 130.8,70.8 135.4,73.0 137.0,75.4" fill="none" stroke="#1f68f4" stroke-linejoin="round" stroke-width="3.4"/>
<polyline points="137.0,75.4 136.2,80.0 137.5,83.5 135.7,85.8 132.3,86.9 128.8,89.2 126.0,88.0 123.0,91.0 119.6,92.1 112.7,93.3 111.0,95.0 109.8,99.6 109.5,105.5" fill="none" stroke="#1f68f4" stroke-linejoin="round" stroke-width="1.9"/>
<polyline points="143.0,160.8 148.5,164.6 154.6,168.0 156.4,173.0 160.4,175.8 165.4,175.0 171.8,173.0 178.5,170.0 182.5,167.0 184.2,164.5" fill="none" stroke="#1f68f4" stroke-linejoin="round" stroke-width="1.9"/>
<polyline points="160.4,175.8 161.3,179.2 166.7,177.9 169.4,179.9 168.0,181.9 162.7,183.9 164.0,186.0 170.8,187.3 176.1,190.0 177.5,194.0 177.6,198.7" fill="none" stroke="#1f68f4" stroke-linejoin="round" stroke-width="1.9"/>
<polyline points="177.6,198.7 171.2,199.6 165.4,200.6 161.3,199.4 157.3,198.1 151.9,197.4 146.5,198.1 145.6,201.3 148.2,204.5 151.4,208.8 152.4,212.0 151.4,216.2 152.4,221.5 153.5,225.7 154.6,231.0 153.5,234.2 148.2,235.2 144.0,234.2 140.8,237.3 138.7,240.5 136.6,243.7 133.4,246.9 131.0,248.0" fill="none" stroke="#1f68f4" stroke-linejoin="round" stroke-width="1.9"/>
<polyline points="145.0,284.0 150.8,284.4 155.8,280.4 161.5,276.5 167.3,272.7 171.2,270.8 175.0,267.0 178.8,265.0 180.8,264.0" fill="none" stroke="#1f68f4" stroke-linejoin="round" stroke-width="1.9"/>
<polyline points="160.0,346.3 162.3,344.4 165.8,341.0 169.2,339.2 173.8,338.1 178.5,338.6 183.1,339.8 188.8,341.0 194.6,342.7 198.0,343.3 199.8,341.5" fill="none" stroke="#1f68f4" stroke-linejoin="round" stroke-width="1.9"/>
<polyline points="160.0,345.6 164.6,350.8 169.2,356.5 173.0,361.0 177.0,365.5 176.0,367.0" fill="none" stroke="#1f68f4" stroke-linejoin="round" stroke-width="1.9"/>
<polyline points="123.5,141.7 127.0,142.3 130.5,141.4 131.9,142.9 132.2,146.9 131.0,149.2 124.0,150.5" fill="none" stroke="#1f68f4" stroke-linejoin="round" stroke-width="1.9"/>
<polygon points="178.2,317.4 179.1,316.4 180.4,315.8 181.6,315.0 183.0,314.4 183.7,314.8 184.4,314.7 185.6,314.4 186.4,315.5 187.3,316.1 188.8,316.1 189.1,317.7 190.2,318.6 189.9,320.2 190.1,321.5 189.0,322.5 188.9,323.4 188.6,324.0 187.6,324.5 187.4,325.6 186.9,326.6 186.0,327.1 185.8,328.7 185.1,329.2 184.5,329.7 183.7,330.0 183.0,331.5 182.1,331.1 181.0,331.3 180.2,331.1 179.4,330.5 178.5,329.9 178.1,328.7 177.4,327.9 177.3,326.5 176.4,325.1 176.1,323.4 176.7,322.6 176.5,321.9 176.7,320.7 176.3,319.3 177.5,318.4" fill="#ff2a00" stroke="#111" stroke-width="1.3"/>
<polygon points="178.7,332.5 179.7,332.2 180.7,332.0 181.5,332.5 182.3,333.2 182.9,334.1 182.6,335.4 183.2,336.4 183.7,337.8 183.1,338.3 182.8,339.1 181.7,338.5 181.1,338.8 180.3,338.2 179.5,338.0 178.9,337.3 178.8,336.4 178.4,335.5 178.2,334.6 178.2,333.3" fill="#ff2a00" stroke="#111" stroke-width="1.3"/>
<circle cx="180.7" cy="343.4" r="1.2" fill="#111"/>
<line x1="191.7" y1="322" x2="336" y2="269.6" stroke="#333" stroke-width="1.1" stroke-dasharray="2.8,2"/>
<line x1="191.7" y1="326" x2="336" y2="445.4" stroke="#333" stroke-width="1.1" stroke-dasharray="2.8,2"/>
<text x="102.7" y="82.8" font-size="10.4" font-weight="bold" fill="#000" textLength="30.4" lengthAdjust="spacingAndGlyphs" stroke="#000" stroke-width="0.25">Pekua</text>
<text x="128.7" y="107" font-size="10.4" font-weight="bold" fill="#000" textLength="43.1" lengthAdjust="spacingAndGlyphs" stroke="#000" stroke-width="0.25">Chakaria</text>
<text x="79" y="164.5" font-size="10.2" font-weight="bold" fill="#000" textLength="62.5" lengthAdjust="spacingAndGlyphs" stroke="#000" stroke-width="0.25">Maheshkhali</text>
<text x="98.2" y="188.2" font-size="10.2" font-weight="bold" fill="#000" textLength="61.8" lengthAdjust="spacingAndGlyphs" stroke="#000" stroke-width="0.25">Maheshkhali</text>
<text x="94" y="208.7" font-size="10.4" font-weight="bold" fill="#000" textLength="91.5" lengthAdjust="spacingAndGlyphs" stroke="#000" stroke-width="0.25">Cox'S Bazar Sadar</text>
<text x="155" y="238" font-size="10.4" font-weight="bold" fill="#000" textLength="29" lengthAdjust="spacingAndGlyphs" stroke="#000" stroke-width="0.25">Ramu</text>
<text x="153.5" y="315" font-size="10.4" font-weight="bold" fill="#000" textLength="29" lengthAdjust="spacingAndGlyphs" stroke="#000" stroke-width="0.25">Ukhia</text>
<text x="186.2" y="376.5" font-size="10.4" font-weight="bold" fill="#000" textLength="31.5" lengthAdjust="spacingAndGlyphs" stroke="#000" stroke-width="0.25">Teknaf</text>
<text x="21" y="29.7" font-size="11.9" font-weight="bold" fill="#000" textLength="11.5" lengthAdjust="spacingAndGlyphs" stroke="#000" stroke-width="0.25">(a)</text>
<g font-size="5.8" fill="#333">
<line x1="70" y1="15.5" x2="70" y2="19" stroke="#222" stroke-width="0.8"/>
<line x1="281.4" y1="15.5" x2="281.4" y2="19" stroke="#222" stroke-width="0.8"/>
<line x1="66.5" y1="501" x2="66.5" y2="504.5" stroke="#222" stroke-width="0.8"/>
<line x1="279.3" y1="501" x2="279.3" y2="504.5" stroke="#222" stroke-width="0.8"/>
<line x1="15.3" y1="139.4" x2="19" y2="139.4" stroke="#222" stroke-width="0.8"/>
<line x1="15.3" y1="300.9" x2="19" y2="300.9" stroke="#222" stroke-width="0.8"/>
<line x1="15.3" y1="462.3" x2="19" y2="462.3" stroke="#222" stroke-width="0.8"/>
<line x1="316.7" y1="141.2" x2="320.6" y2="141.2" stroke="#222" stroke-width="0.8"/>
<line x1="316.7" y1="302.5" x2="320.6" y2="302.5" stroke="#222" stroke-width="0.8"/>
<line x1="316.7" y1="463.8" x2="320.6" y2="463.8" stroke="#222" stroke-width="0.8"/>
<text x="69.9" y="13.9" text-anchor="middle" textLength="22" lengthAdjust="spacingAndGlyphs">91°50'0"E</text>
<text x="281.4" y="13.9" text-anchor="middle" textLength="22" lengthAdjust="spacingAndGlyphs">92°25'0"E</text>
<text x="66.5" y="510.6" text-anchor="middle" textLength="22" lengthAdjust="spacingAndGlyphs">91°50'0"E</text>
<text x="279.2" y="510.6" text-anchor="middle" textLength="22" lengthAdjust="spacingAndGlyphs">92°25'0"E</text>
<text x="0" y="0" transform="translate(13.8,139.4) rotate(-90)" text-anchor="middle" textLength="21.6" lengthAdjust="spacingAndGlyphs">21°40'0"N</text>
<text x="0" y="0" transform="translate(13.8,301) rotate(-90)" text-anchor="middle" textLength="21.6" lengthAdjust="spacingAndGlyphs">21°15'0"N</text>
<text x="0" y="0" transform="translate(13.8,462.3) rotate(-90)" text-anchor="middle" textLength="21.6" lengthAdjust="spacingAndGlyphs">20°50'0"N</text>
</g>
<g>
<polygon points="259.35,42.60 258.10,35.60 256.85,42.60" fill="#222"/>
<polygon points="265.30,51.05 272.30,49.80 265.30,48.55" fill="#222"/>
<polygon points="256.85,57.00 258.10,64.00 259.35,57.00" fill="#222"/>
<polygon points="250.90,48.55 243.90,49.80 250.90,51.05" fill="#222"/>
<circle cx="258.1" cy="49.8" r="7.2" fill="#fff" stroke="#111" stroke-width="1.4"/>
<text x="258.1" y="32.29" font-size="5.80" text-anchor="middle" fill="#111" stroke="#111" stroke-width="0.20">N</text>
<text x="258.1" y="71.49" font-size="5.80" text-anchor="middle" fill="#111" stroke="#111" stroke-width="0.20">S</text>
<text x="239.10" y="51.89" font-size="5.80" text-anchor="middle" fill="#111" stroke="#111" stroke-width="0.20">W</text>
<text x="276.50" y="51.89" font-size="5.80" text-anchor="middle" fill="#111" stroke="#111" stroke-width="0.20">E</text>
</g>
<g stroke="#222" stroke-width="0.95" fill="none">
<line x1="219" y1="93.4" x2="290" y2="93.4"/>
<line x1="219.00" y1="93.4" x2="219.00" y2="87.4"/>
<line x1="227.88" y1="93.4" x2="227.88" y2="89.4"/>
<line x1="236.75" y1="93.4" x2="236.75" y2="89.4"/>
<line x1="245.62" y1="93.4" x2="245.62" y2="89.4"/>
<line x1="254.50" y1="93.4" x2="254.50" y2="87.4"/>
<line x1="263.38" y1="93.4" x2="263.38" y2="89.4"/>
<line x1="272.25" y1="93.4" x2="272.25" y2="89.4"/>
<line x1="281.12" y1="93.4" x2="281.12" y2="89.4"/>
<line x1="290.00" y1="93.4" x2="290.00" y2="87.4"/>
</g>
<text x="219" y="82.6" font-size="9" text-anchor="middle" fill="#111">0</text>
<text x="237" y="82.6" font-size="9" text-anchor="middle" fill="#111">5</text>
<text x="254.4" y="82.6" font-size="9" text-anchor="middle" fill="#111">10</text>
<text x="290" y="82.6" font-size="9" text-anchor="middle" fill="#111">20</text>
<text x="297.6" y="82.6" font-size="9" fill="#111">KM</text>
<rect x="22.5" y="343.2" width="26" height="12.6" fill="#fff" stroke="#333" stroke-width="1.2"/>
<rect x="22.5" y="361.2" width="26" height="12.6" fill="#fff" stroke="#1f68f4" stroke-width="1.8"/>
<rect x="22.5" y="379" width="26" height="12.6" fill="#b4b4b8" stroke="#8a8a8a" stroke-width="0.8"/>
<rect x="22.5" y="413.5" width="26" height="12.6" fill="#086408" stroke="#7a7a7a" stroke-width="0.6"/>
<rect x="22.5" y="431.3" width="26" height="12.6" fill="#5aa812" stroke="#7a7a7a" stroke-width="0.6"/>
<rect x="22.5" y="449.1" width="26" height="12.6" fill="#ffff00" stroke="#8a8a8a" stroke-width="0.6"/>
<rect x="22.5" y="466.9" width="26" height="12.6" fill="#ff9900" stroke="#8a8a8a" stroke-width="0.6"/>
<rect x="22.5" y="484.7" width="26" height="12.6" fill="#ff2200" stroke="#8a8a8a" stroke-width="0.6"/>
<text x="53.8" y="354.2" font-size="10.2" font-weight="normal" fill="#111" textLength="81.3" lengthAdjust="spacingAndGlyphs" >Ukhia refugee camps</text>
<text x="53.8" y="371.6" font-size="10.2" font-weight="normal" fill="#111" textLength="66.4" lengthAdjust="spacingAndGlyphs" >Upazila boundary</text>
<text x="53.8" y="389.5" font-size="10.2" font-weight="normal" fill="#111" textLength="95.5" lengthAdjust="spacingAndGlyphs" >Waterbody and restricted</text>
<text x="23" y="406.3" font-size="10" font-weight="bold" fill="#000" textLength="121" lengthAdjust="spacingAndGlyphs" stroke="#000" stroke-width="0.25">Landslide susceptibility class</text>
<text x="53.8" y="423.3" font-size="10.2" font-weight="normal" fill="#111" textLength="32.5" lengthAdjust="spacingAndGlyphs" >Very low</text>
<text x="53.8" y="441" font-size="10.2" font-weight="normal" fill="#111" textLength="16.5" lengthAdjust="spacingAndGlyphs" >Low</text>
<text x="53.8" y="458.8" font-size="10.2" font-weight="normal" fill="#111" textLength="38" lengthAdjust="spacingAndGlyphs" >Moderate</text>
<text x="53.8" y="476.8" font-size="10.2" font-weight="normal" fill="#111" textLength="19.5" lengthAdjust="spacingAndGlyphs" >High</text>
<text x="53.8" y="495" font-size="10.2" font-weight="normal" fill="#111" textLength="40" lengthAdjust="spacingAndGlyphs" >Very High</text>
<text x="336.3" y="29.7" font-size="12.1" font-weight="bold" fill="#000" stroke="#000" stroke-width="0.25" textLength="11.7" lengthAdjust="spacingAndGlyphs">(b)</text>
<text x="364.9" y="45.8" font-size="9.5" fill="#111" textLength="123.3" lengthAdjust="spacingAndGlyphs">High and very high susceptibility</text>
<rect x="493.6" y="39" width="6.8" height="6.5" fill="#f8766d"/>
<rect x="342.5" y="53.5" width="185.0" height="97.19999999999999" fill="#fff"/>
<line x1="342.5" y1="135.38" x2="527.5" y2="135.38" stroke="#e2e2e2" stroke-width="0.8"/>
<line x1="342.5" y1="113.12" x2="527.5" y2="113.12" stroke="#e2e2e2" stroke-width="0.8"/>
<line x1="342.5" y1="90.88" x2="527.5" y2="90.88" stroke="#e2e2e2" stroke-width="0.8"/>
<line x1="342.5" y1="68.62" x2="527.5" y2="68.62" stroke="#e2e2e2" stroke-width="0.8"/>
<line x1="342.5" y1="146.50" x2="527.5" y2="146.50" stroke="#7a7a7a" stroke-width="0.75" stroke-dasharray="1.7,1.8"/>
<line x1="342.5" y1="124.25" x2="527.5" y2="124.25" stroke="#7a7a7a" stroke-width="0.75" stroke-dasharray="1.7,1.8"/>
<line x1="342.5" y1="102.00" x2="527.5" y2="102.00" stroke="#7a7a7a" stroke-width="0.75" stroke-dasharray="1.7,1.8"/>
<line x1="342.5" y1="79.75" x2="527.5" y2="79.75" stroke="#7a7a7a" stroke-width="0.75" stroke-dasharray="1.7,1.8"/>
<line x1="342.5" y1="57.50" x2="527.5" y2="57.50" stroke="#7a7a7a" stroke-width="0.75" stroke-dasharray="1.7,1.8"/>
<line x1="357.40" y1="53.5" x2="357.40" y2="150.7" stroke="#8a8a8a" stroke-width="0.7" stroke-dasharray="1.2,2.2"/>
<line x1="383.23" y1="53.5" x2="383.23" y2="150.7" stroke="#8a8a8a" stroke-width="0.7" stroke-dasharray="1.2,2.2"/>
<line x1="409.06" y1="53.5" x2="409.06" y2="150.7" stroke="#8a8a8a" stroke-width="0.7" stroke-dasharray="1.2,2.2"/>
<line x1="434.89" y1="53.5" x2="434.89" y2="150.7" stroke="#8a8a8a" stroke-width="0.7" stroke-dasharray="1.2,2.2"/>
<line x1="460.72" y1="53.5" x2="460.72" y2="150.7" stroke="#8a8a8a" stroke-width="0.7" stroke-dasharray="1.2,2.2"/>
<line x1="486.55" y1="53.5" x2="486.55" y2="150.7" stroke="#8a8a8a" stroke-width="0.7" stroke-dasharray="1.2,2.2"/>
<line x1="512.38" y1="53.5" x2="512.38" y2="150.7" stroke="#8a8a8a" stroke-width="0.7" stroke-dasharray="1.2,2.2"/>
<rect x="346.00" y="137.60" width="22.8" height="8.90" fill="#f8766d"/>
<rect x="371.83" y="137.60" width="22.8" height="8.90" fill="#f8766d"/>
<rect x="397.66" y="141.60" width="22.8" height="4.90" fill="#f8766d"/>
<rect x="449.32" y="117.58" width="22.8" height="28.93" fill="#f8766d"/>
<rect x="475.15" y="110.45" width="22.8" height="36.05" fill="#f8766d"/>
<rect x="500.98" y="116.69" width="22.8" height="29.82" fill="#f8766d"/>
<rect x="342.5" y="53.5" width="185.0" height="97.19999999999999" fill="none" stroke="#7f7f7f" stroke-width="0.9"/>
<line x1="340.5" y1="146.50" x2="342.5" y2="146.50" stroke="#444" stroke-width="0.6"/>
<text x="339.7" y="148.00" font-size="4.2" text-anchor="end" fill="#555">0</text>
<line x1="340.5" y1="124.25" x2="342.5" y2="124.25" stroke="#444" stroke-width="0.6"/>
<text x="339.7" y="125.75" font-size="4.2" text-anchor="end" fill="#555">5</text>
<line x1="340.5" y1="102.00" x2="342.5" y2="102.00" stroke="#444" stroke-width="0.6"/>
<text x="339.7" y="103.50" font-size="4.2" text-anchor="end" fill="#555">10</text>
<line x1="340.5" y1="79.75" x2="342.5" y2="79.75" stroke="#444" stroke-width="0.6"/>
<text x="339.7" y="81.25" font-size="4.2" text-anchor="end" fill="#555">15</text>
<line x1="340.5" y1="57.50" x2="342.5" y2="57.50" stroke="#444" stroke-width="0.6"/>
<text x="339.7" y="59.00" font-size="4.2" text-anchor="end" fill="#555">20</text>
<line x1="357.40" y1="150.7" x2="357.40" y2="152.7" stroke="#444" stroke-width="0.6"/>
<line x1="383.23" y1="150.7" x2="383.23" y2="152.7" stroke="#444" stroke-width="0.6"/>
<line x1="409.06" y1="150.7" x2="409.06" y2="152.7" stroke="#444" stroke-width="0.6"/>
<line x1="434.89" y1="150.7" x2="434.89" y2="152.7" stroke="#444" stroke-width="0.6"/>
<line x1="460.72" y1="150.7" x2="460.72" y2="152.7" stroke="#444" stroke-width="0.6"/>
<line x1="486.55" y1="150.7" x2="486.55" y2="152.7" stroke="#444" stroke-width="0.6"/>
<line x1="512.38" y1="150.7" x2="512.38" y2="152.7" stroke="#444" stroke-width="0.6"/>
<text x="0" y="0" transform="translate(360.50,157.2) rotate(-45)" font-size="6.5" text-anchor="end" fill="#4d4d4d">Chakaria</text>
<text x="0" y="0" transform="translate(386.33,157.2) rotate(-45)" font-size="6.5" text-anchor="end" fill="#4d4d4d">Cox's Bazar Sadar</text>
<text x="0" y="0" transform="translate(412.16,157.2) rotate(-45)" font-size="6.5" text-anchor="end" fill="#4d4d4d">Maheshkhali</text>
<text x="0" y="0" transform="translate(437.99,157.2) rotate(-45)" font-size="6.5" text-anchor="end" fill="#4d4d4d">Pekua</text>
<text x="0" y="0" transform="translate(463.82,157.2) rotate(-45)" font-size="6.5" text-anchor="end" fill="#4d4d4d">Ramu</text>
<text x="0" y="0" transform="translate(489.65,157.2) rotate(-45)" font-size="6.5" text-anchor="end" fill="#4d4d4d">Teknaf</text>
<text x="0" y="0" transform="translate(515.48,157.2) rotate(-45)" font-size="6.5" text-anchor="end" fill="#4d4d4d">Ukhia</text>
<text x="0" y="0" transform="translate(334.3,102.7) rotate(-90)" font-size="6.2" font-weight="bold" text-anchor="middle" fill="#000" textLength="86" lengthAdjust="spacingAndGlyphs">Percentage of total study area</text>
<text x="336.3" y="250.5" font-size="11.6" font-weight="bold" fill="#000" stroke="#000" stroke-width="0.25" textLength="11.2" lengthAdjust="spacingAndGlyphs">(c)</text>
<rect x="336" y="269.5" width="194.3" height="176" fill="none" stroke="#222" stroke-width="1.2"/>
<clipPath id="inc"><polygon points="425.4,278.7 427.9,281.5 430.8,284.4 436.5,288.3 442.3,290.2 448.1,292.1 452.9,294.0 454.8,298.8 457.7,303.7 458.7,310.4 457.7,316.2 455.8,320.0 459.6,323.8 457.7,329.6 453.8,335.4 450.0,339.2 446.2,344.0 444.2,345.8 440.4,349.6 436.5,355.4 433.7,359.2 432.7,365.0 431.7,369.8 428.8,370.8 426.0,366.0 422.1,364.0 416.3,364.0 411.5,365.0 408.7,367.9 404.8,370.8 401.0,370.8 398.1,366.9 394.2,363.0 392.3,358.3 394.2,353.5 393.3,347.7 391.3,340.0 387.5,337.3 384.6,329.6 383.7,323.8 386.5,321.0 392.3,321.9 396.2,319.0 393.3,314.2 392.3,308.5 393.3,300.8 395.2,298.8 400.0,296.9 405.8,296.0 410.6,294.0 416.3,293.1 420.2,289.2 421.2,285.4 422.1,282.5 424.0,279.6"/><polygon points="410.6,374.6 416.3,373.7 418.3,375.6 418.3,379.4 421.2,381.3 422.1,386.2 424.0,391.9 426.0,396.7 426.9,403.5 425.4,410.2 423.1,407.3 420.2,405.4 416.3,405.4 411.5,404.4 407.7,403.5 403.8,401.5 400.0,399.6 398.1,395.8 397.7,391.0 395.8,387.1 397.1,383.3 400.0,381.3 403.8,379.4 407.7,378.5 410.6,377.5"/><polygon points="405.8,424.6 409.6,422.7 414.4,422.3 418.3,423.7 417.7,428.5 416.3,432.3 414.4,436.2 411.5,437.1 407.7,435.2 404.8,432.3 402.9,430.4 403.8,427.5"/></clipPath>
<g clip-path="url(#inc)"><g filter="url(#soft)">
<rect x="380" y="275" width="85" height="135" fill="#ff2a00"/>
<clipPath id="ic5"><polygon points="380.0,275.0 465.0,275.0 465.0,410.0 380.0,410.0"/></clipPath><g clip-path="url(#ic5)">
<rect x="379.0" y="274.0" width="87.0" height="137.0" fill="#ff9900" filter="url(#s90)"/>
<rect x="379.0" y="274.0" width="87.0" height="137.0" fill="#ffff00" filter="url(#s91)"/>
<rect x="379.0" y="274.0" width="87.0" height="137.0" fill="#5aaa14" filter="url(#s92)"/>
</g>
<clipPath id="ic10"><polygon points="384.0,300.0 418.0,290.0 416.0,330.0 410.0,365.0 392.0,365.0 384.0,330.0"/></clipPath><g clip-path="url(#ic10)">
<rect x="383.0" y="289.0" width="36.0" height="77.0" fill="#ff9900" filter="url(#s93)"/>
<rect x="383.0" y="289.0" width="36.0" height="77.0" fill="#ffff00" filter="url(#s94)"/>
</g>
<clipPath id="ic14"><polygon points="448.0,296.0 459.0,302.0 460.0,318.0 452.0,312.0"/></clipPath><g clip-path="url(#ic14)">
<rect x="447.0" y="295.0" width="14.0" height="24.0" fill="#5aaa14" filter="url(#s95)"/>
<rect x="447.0" y="295.0" width="14.0" height="24.0" fill="#0a6b0a" filter="url(#s96)"/>
<rect x="447.0" y="295.0" width="14.0" height="24.0" fill="#ffff00" filter="url(#s97)"/>
</g>
<clipPath id="ic19"><polygon points="450.0,330.0 458.0,330.0 450.0,342.0 440.0,350.0 432.0,362.0 430.0,372.0 428.0,366.0 436.0,348.0"/></clipPath><g clip-path="url(#ic19)">
<rect x="427.0" y="329.0" width="32.0" height="44.0" fill="#5aaa14" filter="url(#s98)"/>
<rect x="427.0" y="329.0" width="32.0" height="44.0" fill="#0a6b0a" filter="url(#s99)"/>
<rect x="427.0" y="329.0" width="32.0" height="44.0" fill="#ffff00" filter="url(#s100)"/>
</g>
<clipPath id="ic24"><polygon points="395.0,380.0 428.0,380.0 428.0,412.0 395.0,412.0"/></clipPath><g clip-path="url(#ic24)">
<rect x="394.0" y="379.0" width="35.0" height="34.0" fill="#ff9900" filter="url(#s101)"/>
<rect x="394.0" y="379.0" width="35.0" height="34.0" fill="#ffff00" filter="url(#s102)"/>
<rect x="394.0" y="379.0" width="35.0" height="34.0" fill="#5aaa14" filter="url(#s103)"/>
</g>
<clipPath id="ic29"><polygon points="415.0,385.0 428.0,390.0 428.0,410.0 418.0,400.0"/></clipPath><g clip-path="url(#ic29)">
<rect x="414.0" y="384.0" width="15.0" height="27.0" fill="#5aaa14" filter="url(#s104)"/>
<rect x="414.0" y="384.0" width="15.0" height="27.0" fill="#ffff00" filter="url(#s105)"/>
</g>
<polygon points="405.8,424.6 409.6,422.7 414.4,422.3 418.3,423.7 417.7,428.5 416.3,432.3 414.4,436.2 411.5,437.1 407.7,435.2 404.8,432.3 402.9,430.4 403.8,427.5" fill="#0a6b0a"/>
<clipPath id="ic34"><polygon points="405.8,424.6 409.6,422.7 414.4,422.3 418.3,423.7 417.7,428.5 416.3,432.3 414.4,436.2 411.5,437.1 407.7,435.2 404.8,432.3 402.9,430.4 403.8,427.5"/></clipPath><g clip-path="url(#ic34)">
<rect x="401.9" y="421.3" width="17.4" height="16.8" fill="#5aaa14" filter="url(#s106)"/>
<rect x="401.9" y="421.3" width="17.4" height="16.8" fill="#ffff00" filter="url(#s107)"/>
<rect x="401.9" y="421.3" width="17.4" height="16.8" fill="#ff2a00" filter="url(#s108)"/>
</g>
</g></g>
<polygon points="425.4,278.7 427.9,281.5 430.8,284.4 436.5,288.3 442.3,290.2 448.1,292.1 452.9,294.0 454.8,298.8 457.7,303.7 458.7,310.4 457.7,316.2 455.8,320.0 459.6,323.8 457.7,329.6 453.8,335.4 450.0,339.2 446.2,344.0 444.2,345.8 440.4,349.6 436.5,355.4 433.7,359.2 432.7,365.0 431.7,369.8 428.8,370.8 426.0,366.0 422.1,364.0 416.3,364.0 411.5,365.0 408.7,367.9 404.8,370.8 401.0,370.8 398.1,366.9 394.2,363.0 392.3,358.3 394.2,353.5 393.3,347.7 391.3,340.0 387.5,337.3 384.6,329.6 383.7,323.8 386.5,321.0 392.3,321.9 396.2,319.0 393.3,314.2 392.3,308.5 393.3,300.8 395.2,298.8 400.0,296.9 405.8,296.0 410.6,294.0 416.3,293.1 420.2,289.2 421.2,285.4 422.1,282.5 424.0,279.6" fill="none" stroke="#111" stroke-width="1.1"/>
<polygon points="410.6,374.6 416.3,373.7 418.3,375.6 418.3,379.4 421.2,381.3 422.1,386.2 424.0,391.9 426.0,396.7 426.9,403.5 425.4,410.2 423.1,407.3 420.2,405.4 416.3,405.4 411.5,404.4 407.7,403.5 403.8,401.5 400.0,399.6 398.1,395.8 397.7,391.0 395.8,387.1 397.1,383.3 400.0,381.3 403.8,379.4 407.7,378.5 410.6,377.5" fill="none" stroke="#111" stroke-width="1.1"/>
<polygon points="405.8,424.6 409.6,422.7 414.4,422.3 418.3,423.7 417.7,428.5 416.3,432.3 414.4,436.2 411.5,437.1 407.7,435.2 404.8,432.3 402.9,430.4 403.8,427.5" fill="none" stroke="#111" stroke-width="1.1"/>
<line x1="421.5" y1="266.5" x2="421.5" y2="269.5" stroke="#222" stroke-width="0.8"/>
<line x1="421.5" y1="445.5" x2="421.5" y2="448.5" stroke="#222" stroke-width="0.8"/>
<line x1="514.6" y1="266.5" x2="514.6" y2="269.5" stroke="#222" stroke-width="0.8"/>
<line x1="514.6" y1="445.5" x2="514.6" y2="448.5" stroke="#222" stroke-width="0.8"/>
<line x1="333" y1="321.3" x2="336" y2="321.3" stroke="#222" stroke-width="0.8"/>
<line x1="530.3" y1="321.3" x2="533.3" y2="321.3" stroke="#222" stroke-width="0.8"/>
<line x1="333" y1="414" x2="336" y2="414" stroke="#222" stroke-width="0.8"/>
<line x1="530.3" y1="414" x2="533.3" y2="414" stroke="#222" stroke-width="0.8"/>
<text x="421.5" y="264.8" font-size="4.3" fill="#333" font-family="Liberation Serif, serif" text-anchor="middle">92°9'0"E</text>
<text x="514.6" y="264.8" font-size="4.3" fill="#333" font-family="Liberation Serif, serif" text-anchor="middle">92°12'0"E</text>
<text x="421.5" y="453" font-size="4.3" fill="#333" font-family="Liberation Serif, serif" text-anchor="middle">92°9'0"E</text>
<text x="514.6" y="453" font-size="4.3" fill="#333" font-family="Liberation Serif, serif" text-anchor="middle">92°12'0"E</text>
<text x="0" y="0" transform="translate(535,321.3) rotate(90)" font-size="4.3" fill="#333" font-family="Liberation Serif, serif" text-anchor="middle">21°12'0"N</text>
<text x="0" y="0" transform="translate(535,414) rotate(90)" font-size="4.3" fill="#333" font-family="Liberation Serif, serif" text-anchor="middle">21°9'0"N</text>
<g>
<polygon points="475.44,386.70 474.50,381.45 473.56,386.70" fill="#222"/>
<polygon points="479.80,392.94 485.05,392.00 479.80,391.06" fill="#222"/>
<polygon points="473.56,397.30 474.50,402.55 475.44,397.30" fill="#222"/>
<polygon points="469.20,391.06 463.95,392.00 469.20,392.94" fill="#222"/>
<circle cx="474.5" cy="392" r="5.3" fill="#fff" stroke="#111" stroke-width="1.0499999999999998"/>
<text x="474.5" y="378.87" font-size="4.35" text-anchor="middle" fill="#111" stroke="#111" stroke-width="0.15">N</text>
<text x="474.5" y="408.27" font-size="4.35" text-anchor="middle" fill="#111" stroke="#111" stroke-width="0.15">S</text>
<text x="460.25" y="393.57" font-size="4.35" text-anchor="middle" fill="#111" stroke="#111" stroke-width="0.15">W</text>
<text x="488.30" y="393.57" font-size="4.35" text-anchor="middle" fill="#111" stroke="#111" stroke-width="0.15">E</text>
</g>
<g stroke="#222" stroke-width="0.95" fill="none">
<line x1="440" y1="433.3" x2="507" y2="433.3"/>
<line x1="440.00" y1="433.3" x2="440.00" y2="427.3"/>
<line x1="448.38" y1="433.3" x2="448.38" y2="429.3"/>
<line x1="456.75" y1="433.3" x2="456.75" y2="429.3"/>
<line x1="465.12" y1="433.3" x2="465.12" y2="429.3"/>
<line x1="473.50" y1="433.3" x2="473.50" y2="427.3"/>
<line x1="481.88" y1="433.3" x2="481.88" y2="429.3"/>
<line x1="490.25" y1="433.3" x2="490.25" y2="429.3"/>
<line x1="498.62" y1="433.3" x2="498.62" y2="429.3"/>
<line x1="507.00" y1="433.3" x2="507.00" y2="427.3"/>
</g>
<text x="440" y="422.5" font-size="8.8" text-anchor="middle" fill="#111">0</text>
<text x="456.8" y="422.5" font-size="8.8" text-anchor="middle" fill="#111">1</text>
<text x="473.3" y="422.5" font-size="8.8" text-anchor="middle" fill="#111">2</text>
<text x="506.6" y="422.5" font-size="8.8" text-anchor="middle" fill="#111">4</text>
<text x="512.2" y="422.5" font-size="8.8" fill="#111">KM</text>
</svg></body></html>
